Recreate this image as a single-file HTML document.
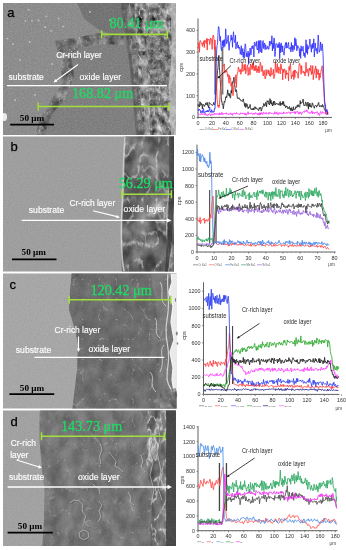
<!DOCTYPE html>
<html><head><meta charset="utf-8"><title>SEM line scans</title>
<style>
html,body{margin:0;padding:0;background:#fff;}
body{width:346px;height:550px;overflow:hidden;}
svg{display:block;filter:blur(0.35px);}
svg text{font-family:"Liberation Sans",Arial,sans-serif;}
.serif{font-family:"Liberation Serif","Times New Roman",serif !important;}
</style></head><body>
<svg width="346" height="550" viewBox="0 0 346 550">
<rect width="346" height="550" fill="#fff"/>
<defs>
<filter id="nz" color-interpolation-filters="sRGB" x="0" y="0" width="1" height="1">
  <feTurbulence type="fractalNoise" baseFrequency="0.7" numOctaves="2" seed="4" result="t"/>
  <feColorMatrix in="t" type="matrix" values="1.6 0 0 0 -0.3  1.6 0 0 0 -0.3  1.6 0 0 0 -0.3  0 0 0 0 0.08"/>
</filter>
<filter id="ta" color-interpolation-filters="sRGB" x="0" y="0" width="1" height="1">
  <feTurbulence type="fractalNoise" baseFrequency="0.16 0.12" numOctaves="3" seed="3" result="n"/>
  <feColorMatrix in="n" type="matrix" values="1.1 0 0 0 -0.072  1.1 0 0 0 -0.072  1.1 0 0 0 -0.072  0 0 0 0 1" result="shade"/>
  <feTurbulence type="turbulence" baseFrequency="0.1 0.07" numOctaves="3" seed="12" result="t"/>
  <feColorMatrix in="t" type="matrix" values="0 0 0 0 1  0 0 0 0 1  0 0 0 0 1  -2.700 0 0 0 0.600" result="veins0"/>
  <feGaussianBlur in="veins0" stdDeviation="0.4" result="veins"/>
  <feComposite in="veins" in2="shade" operator="over" result="tex"/>
  <feComposite in="tex" in2="SourceGraphic" operator="in"/>
</filter>
<filter id="tb" color-interpolation-filters="sRGB" x="0" y="0" width="1" height="1">
  <feTurbulence type="fractalNoise" baseFrequency="0.06 0.04" numOctaves="3" seed="5" result="n"/>
  <feColorMatrix in="n" type="matrix" values="0.7 0 0 0 0.066  0.7 0 0 0 0.066  0.7 0 0 0 0.066  0 0 0 0 1" result="shade"/>
  <feTurbulence type="turbulence" baseFrequency="0.07 0.045" numOctaves="3" seed="17" result="t"/>
  <feColorMatrix in="t" type="matrix" values="0 0 0 0 1  0 0 0 0 1  0 0 0 0 1  -2.475 0 0 0 0.550" result="veins0"/>
  <feGaussianBlur in="veins0" stdDeviation="0.45" result="veins"/>
  <feComposite in="veins" in2="shade" operator="over" result="tex"/>
  <feComposite in="tex" in2="SourceGraphic" operator="in"/>
</filter>
<filter id="tg" color-interpolation-filters="sRGB" x="0" y="0" width="1" height="1">
  <feTurbulence type="fractalNoise" baseFrequency="0.2 0.2" numOctaves="3" seed="31" result="n"/>
  <feColorMatrix in="n" type="matrix" values="0.7 0 0 0 0.113  0.7 0 0 0 0.113  0.7 0 0 0 0.113  0 0 0 0 1" result="shade"/>
  <feTurbulence type="turbulence" baseFrequency="0.15 0.15" numOctaves="3" seed="33" result="t"/>
  <feColorMatrix in="t" type="matrix" values="0 0 0 0 1  0 0 0 0 1  0 0 0 0 1  -2.100 0 0 0 0.350" result="veins0"/>
  <feGaussianBlur in="veins0" stdDeviation="0.3" result="veins"/>
  <feComposite in="veins" in2="shade" operator="over" result="tex"/>
  <feComposite in="tex" in2="SourceGraphic" operator="in"/>
</filter>
<filter id="tcr" color-interpolation-filters="sRGB" x="0" y="0" width="1" height="1">
  <feTurbulence type="fractalNoise" baseFrequency="0.12 0.1" numOctaves="3" seed="41" result="n"/>
  <feColorMatrix in="n" type="matrix" values="0.6 0 0 0 0.139  0.6 0 0 0 0.139  0.6 0 0 0 0.139  0 0 0 0 1" result="shade"/>
  <feTurbulence type="turbulence" baseFrequency="0.1 0.08" numOctaves="3" seed="43" result="t"/>
  <feColorMatrix in="t" type="matrix" values="0 0 0 0 1  0 0 0 0 1  0 0 0 0 1  -2.400 0 0 0 0.400" result="veins0"/>
  <feGaussianBlur in="veins0" stdDeviation="0.35" result="veins"/>
  <feComposite in="veins" in2="shade" operator="over" result="tex"/>
  <feComposite in="tex" in2="SourceGraphic" operator="in"/>
</filter>
<filter id="tc" color-interpolation-filters="sRGB" x="0" y="0" width="1" height="1">
  <feTurbulence type="fractalNoise" baseFrequency="0.08 0.06" numOctaves="3" seed="7" result="n"/>
  <feColorMatrix in="n" type="matrix" values="0.2 0 0 0 0.324  0.2 0 0 0 0.324  0.2 0 0 0 0.324  0 0 0 0 1" result="shade"/>
  <feTurbulence type="turbulence" baseFrequency="0.06 0.05" numOctaves="3" seed="23" result="t"/>
  <feColorMatrix in="t" type="matrix" values="0 0 0 0 1  0 0 0 0 1  0 0 0 0 1  -2.700 0 0 0 0.300" result="veins0"/>
  <feGaussianBlur in="veins0" stdDeviation="0.4" result="veins"/>
  <feComposite in="veins" in2="shade" operator="over" result="tex"/>
  <feComposite in="tex" in2="SourceGraphic" operator="in"/>
</filter>
<filter id="td" color-interpolation-filters="sRGB" x="0" y="0" width="1" height="1">
  <feTurbulence type="fractalNoise" baseFrequency="0.08 0.06" numOctaves="3" seed="9" result="n"/>
  <feColorMatrix in="n" type="matrix" values="0.25 0 0 0 0.334  0.25 0 0 0 0.334  0.25 0 0 0 0.334  0 0 0 0 1" result="shade"/>
  <feTurbulence type="turbulence" baseFrequency="0.06 0.045" numOctaves="3" seed="29" result="t"/>
  <feColorMatrix in="t" type="matrix" values="0 0 0 0 1  0 0 0 0 1  0 0 0 0 1  -2.500 0 0 0 0.250" result="veins0"/>
  <feGaussianBlur in="veins0" stdDeviation="0.4" result="veins"/>
  <feComposite in="veins" in2="shade" operator="over" result="tex"/>
  <feComposite in="tex" in2="SourceGraphic" operator="in"/>
</filter>
<filter id="td2" color-interpolation-filters="sRGB" x="0" y="0" width="1" height="1">
  <feTurbulence type="fractalNoise" baseFrequency="0.1 0.06" numOctaves="3" seed="13" result="n"/>
  <feColorMatrix in="n" type="matrix" values="0.5 0 0 0 0.213  0.5 0 0 0 0.213  0.5 0 0 0 0.213  0 0 0 0 1" result="shade"/>
  <feTurbulence type="turbulence" baseFrequency="0.09 0.05" numOctaves="3" seed="37" result="t"/>
  <feColorMatrix in="t" type="matrix" values="0 0 0 0 1  0 0 0 0 1  0 0 0 0 1  -3.375 0 0 0 0.750" result="veins0"/>
  <feGaussianBlur in="veins0" stdDeviation="0.4" result="veins"/>
  <feComposite in="veins" in2="shade" operator="over" result="tex"/>
  <feComposite in="tex" in2="SourceGraphic" operator="in"/>
</filter>
<linearGradient id="gc" x1="0" y1="0" x2="1" y2="0"><stop offset="0" stop-color="#c8c8c8"/><stop offset="0.5" stop-color="#e0e0e0"/><stop offset="1" stop-color="#f2f2f2"/></linearGradient>
<clipPath id="ca"><rect x="3" y="3" width="173" height="132"/></clipPath>
<clipPath id="cb"><rect x="3" y="136.5" width="171" height="135"/></clipPath>
<clipPath id="cc"><rect x="3" y="273.5" width="174" height="135"/></clipPath>
<clipPath id="cd"><rect x="3" y="410.5" width="173" height="135.5"/></clipPath>
</defs>
<g clip-path="url(#ca)">
<rect x="0" y="0" width="180" height="140" fill="rgb(142,142,142)"/>
<polygon points="55,42 100,33 124,37 132,36 136,70 141,135 36,135 40,120 50,102 62,84 61,60" fill="rgb(128,128,128)"/>
<polygon points="76,0 134,0 134,20 132,36 124,37 110,34 100,30.6 84,18.4" fill="rgb(116,116,116)"/>
<polygon points="130,0 176,0 176,135 141,135 136,70 133,40" fill="#000" filter="url(#ta)"/>
<polygon points="146,40 155,34 168,37 171,60 168,90 158,86 150,75 147,58" fill="#000" filter="url(#tg)"/>
<polygon points="120,0 134,0 136,40 138,70 144,135 137,135 131,70 127,40" fill="#000" filter="url(#tcr)"/>
<polygon points="120,0 126,0 129,40 133,70 139,135 136,135 130,70 126,40" fill="rgb(85,85,85)" opacity="0.6"/>
<polygon points="55,41 80,37 100,33 124,36 124,45 100,44 80,48 70,54 75,75 66,98 54,112 44,135 35,135 40,120 50,102 62,84 61,60" fill="#000" filter="url(#tcr)"/>
<polygon points="141,55 146,55 150,135 145,135" fill="rgb(180,180,180)" opacity="0.45"/>
<polygon points="170,0 176,0 176,135 171,135 169,90 172,50" fill="rgb(200,200,200)" opacity="0.7"/>
<ellipse cx="4.5" cy="117" rx="2.5" ry="4" fill="#f4f4f4"/>
<g fill="#dcdcdc" opacity="0.75"><circle cx="25.3" cy="20.8" r="0.9"/><circle cx="32" cy="20.8" r="0.9"/><circle cx="38.6" cy="20.4" r="0.9"/><circle cx="46.4" cy="16.4" r="0.9"/><circle cx="58.7" cy="18.6" r="0.9"/><circle cx="45.3" cy="27" r="0.9"/><circle cx="50.9" cy="30.8" r="0.9"/><circle cx="29.7" cy="42" r="0.9"/><circle cx="13" cy="44.2" r="0.9"/><circle cx="7.5" cy="38.6" r="0.9"/><circle cx="28.6" cy="9.7" r="0.9"/><circle cx="63" cy="26.4" r="0.9"/><circle cx="20" cy="60" r="0.9"/><circle cx="35" cy="95" r="0.9"/><circle cx="15" cy="100" r="0.9"/><circle cx="52" cy="64" r="0.9"/><circle cx="90" cy="12" r="0.9"/><circle cx="110" cy="20" r="0.9"/></g>
<rect x="0" y="0" width="180" height="140" filter="url(#nz)"/>
</g>
<text x="7.3" y="16.8" font-size="13" fill="#000" stroke="#000" stroke-width="0.25">a</text>
<line x1="101.6" y1="34.4" x2="167.4" y2="34.4" stroke="#a2e03c" stroke-width="1.6"/><line x1="101.6" y1="30.4" x2="101.6" y2="38.4" stroke="#a2e03c" stroke-width="1.5"/><line x1="167.4" y1="30.4" x2="167.4" y2="38.4" stroke="#a2e03c" stroke-width="1.5"/><text class="serif" x="109.5" y="27.8" font-size="14.2" fill="#1edc64" stroke="#1edc64" stroke-width="0.3">80.41 μm</text>
<text x="56.2" y="58.1" font-size="9.07" textLength="45.7" lengthAdjust="spacingAndGlyphs" fill="#fff" stroke="#fff" stroke-width="0.15">Cr-rich layer</text>
<line x1="78" y1="64.5" x2="55.1" y2="81.3" stroke="#fff" stroke-width="1.1"/><polygon points="53.5,82.5 55.4,79.0 57.4,81.8" fill="#fff"/>
<text x="8.5" y="79.8" font-size="9.29" textLength="35.4" lengthAdjust="spacingAndGlyphs" fill="#fff" stroke="#fff" stroke-width="0.15">substrate</text>
<text x="79.5" y="79.8" font-size="9.29" textLength="41.6" lengthAdjust="spacingAndGlyphs" fill="#fff" stroke="#fff" stroke-width="0.15">oxide layer</text>
<line x1="7" y1="85.6" x2="167" y2="85.6" stroke="#fff" stroke-width="1.3"/>
<line x1="38.2" y1="106.5" x2="169" y2="106.5" stroke="#a2e03c" stroke-width="1.6"/><line x1="38.2" y1="102.5" x2="38.2" y2="110.5" stroke="#a2e03c" stroke-width="1.5"/><line x1="169" y1="102.5" x2="169" y2="110.5" stroke="#a2e03c" stroke-width="1.5"/><text class="serif" x="72" y="97.5" font-size="14.2" fill="#1edc64" stroke="#1edc64" stroke-width="0.3">168.82 μm</text>
<line x1="10.2" y1="124.6" x2="54" y2="124.6" stroke="#000" stroke-width="1.8"/><text class="serif" x="19.8" y="120.5" font-size="9.2" font-weight="bold" fill="#000">50 μm</text>
<g clip-path="url(#cb)">
<rect x="0" y="130" width="180" height="145" fill="rgb(161,161,161)"/>
<polygon points="124,136 176,136 176,275 122,275 121,240 123,200" fill="#000" filter="url(#tb)"/>
<path d="M125,136 C123,160 124,175 122.5,200 S121,240 122,255 S124,268 124.5,275" stroke="#e6e6e6" stroke-width="1.6" fill="none" opacity="0.75"/>
<path d="M170,136 C169,160 171,180 168,200 S167,240 169,255 S168,268 167,275" stroke="#d0d0d0" stroke-width="1.2" fill="none" opacity="0.6"/>
<polygon points="169,136 174,136 174,200 172,240 168,272 165,272 167,240 169,200" fill="rgb(50,50,50)" opacity="0.7"/>
<rect x="0" y="130" width="180" height="145" filter="url(#nz)" opacity="0.6"/>
</g>
<text x="10.5" y="151.2" font-size="13" fill="#000" stroke="#000" stroke-width="0.25">b</text>
<line x1="122" y1="194.2" x2="171.4" y2="194.2" stroke="#a2e03c" stroke-width="1.6"/><line x1="122" y1="190.2" x2="122" y2="198.2" stroke="#a2e03c" stroke-width="1.5"/><line x1="171.4" y1="190.2" x2="171.4" y2="198.2" stroke="#a2e03c" stroke-width="1.5"/><text class="serif" x="118.7" y="187.5" font-size="14.2" fill="#1edc64" stroke="#1edc64" stroke-width="0.3">56.29 μm</text>
<text x="69.5" y="205.6" font-size="9.07" textLength="45.7" lengthAdjust="spacingAndGlyphs" fill="#fff" stroke="#fff" stroke-width="0.15">Cr-rich layer</text>
<line x1="93" y1="210.8" x2="118.1" y2="216.9" stroke="#fff" stroke-width="1.1"/><polygon points="120,217.4 116.1,218.2 116.9,214.9" fill="#fff"/>
<text x="28.8" y="212.6" font-size="9.29" textLength="35.4" lengthAdjust="spacingAndGlyphs" fill="#fff" stroke="#fff" stroke-width="0.15">substrate</text>
<text x="123.6" y="212.1" font-size="9.29" textLength="41.6" lengthAdjust="spacingAndGlyphs" fill="#fff" stroke="#fff" stroke-width="0.15">oxide layer</text>
<line x1="21.6" y1="220.4" x2="168.5" y2="220.4" stroke="#fff" stroke-width="1.3"/><polygon points="171.5,220.4 167.0,218.20000000000002 167.0,222.6" fill="#fff"/>
<line x1="12" y1="259.4" x2="56.5" y2="259.4" stroke="#000" stroke-width="1.8"/><text class="serif" x="21.6" y="255.0" font-size="9.2" font-weight="bold" fill="#000">50 μm</text>
<g clip-path="url(#cc)">
<rect x="0" y="270" width="180" height="145" fill="rgb(169,169,169)"/>
<polygon points="72,270 176,270 176,412 72,412 74,395 77,370 78,345 75,330 69,310 70,290" fill="#000" filter="url(#tc)"/>
<polygon points="150,270 172,270 172,392 155,412 158,380 160,340 155,300" fill="rgb(150,150,150)" opacity="0.3"/>
<polygon points="171,270 178,270 178,390 174,392 172,380 173,368 170,352 174,340 171,322 173,306 169,292 172,282" fill="#f0f0f0"/>
<path d="M171,273 L172,282 L169,292 L173,306 L171,322 L174,340 L170,352 L173,368 L172,380 L174,392" stroke="#fafafa" stroke-width="1.3" fill="none"/>
<g fill="none" stroke="#e8e8e8" stroke-width="1" opacity="0.7"><path d="M160,282 C165,290 158,300 166,306"/><path d="M155,318 C160,325 152,332 160,338"/><path d="M164,345 C158,352 166,360 160,372"/><path d="M150,372 C156,378 148,384 156,392"/></g>
<path d="M168,273 C166,290 171,300 167,320 S171,345 168,365 S170,385 172,392" stroke="rgb(240,240,240)" stroke-width="1.2" fill="none" opacity="0.8"/>
<polygon points="160,392 168,390 176,388 177,412 160,412" fill="#000" filter="url(#tcr)" opacity="0.7"/>
<rect x="0" y="270" width="180" height="145" filter="url(#nz)" opacity="0.6"/>
</g>
<g fill="#555" opacity="0.7"><ellipse cx="176.8" cy="333.5" rx="1" ry="2"/><ellipse cx="177.5" cy="343.5" rx="0.8" ry="1.2"/><ellipse cx="175.5" cy="300" rx="0.6" ry="2"/><ellipse cx="176" cy="395" rx="1.2" ry="3"/></g>
<text x="9.5" y="288.8" font-size="13" fill="#000" stroke="#000" stroke-width="0.25">c</text>
<line x1="69.2" y1="299.7" x2="170.7" y2="299.7" stroke="#a2e03c" stroke-width="1.6"/><line x1="69.2" y1="295.7" x2="69.2" y2="303.7" stroke="#a2e03c" stroke-width="1.5"/><line x1="170.7" y1="295.7" x2="170.7" y2="303.7" stroke="#a2e03c" stroke-width="1.5"/><text class="serif" x="90.5" y="295.3" font-size="14.2" fill="#1edc64" stroke="#1edc64" stroke-width="0.3">120.42 μm</text>
<text x="54.6" y="332.5" font-size="9.07" textLength="45.7" lengthAdjust="spacingAndGlyphs" fill="#fff" stroke="#fff" stroke-width="0.15">Cr-rich layer</text>
<line x1="78.5" y1="336.5" x2="78.5" y2="350.0" stroke="#fff" stroke-width="1.1"/><polygon points="78.5,352 76.8,348.4 80.2,348.4" fill="#fff"/>
<text x="15.8" y="352.5" font-size="9.29" textLength="35.4" lengthAdjust="spacingAndGlyphs" fill="#fff" stroke="#fff" stroke-width="0.15">substrate</text>
<text x="88.6" y="351.9" font-size="9.29" textLength="41.6" lengthAdjust="spacingAndGlyphs" fill="#fff" stroke="#fff" stroke-width="0.15">oxide layer</text>
<line x1="34.4" y1="357.3" x2="164.3" y2="357.3" stroke="#fff" stroke-width="1.3"/>
<line x1="9.4" y1="394.2" x2="54.2" y2="394.2" stroke="#000" stroke-width="1.8"/><text class="serif" x="19.8" y="390.5" font-size="9.2" font-weight="bold" fill="#000">50 μm</text>
<g clip-path="url(#cd)">
<rect x="0" y="405" width="180" height="145" fill="rgb(164,164,164)"/>
<polygon points="40,405 176,405 176,550 42,550 44,520 44.5,490 42,470 39.5,440 39.5,420" fill="#000" filter="url(#td)"/>
<polygon points="148,405 167,405 167,550 150,550 152,500 146,460" fill="#000" filter="url(#td2)"/>
<rect x="166" y="405" width="11" height="145" fill="rgb(60,60,60)" opacity="0.8"/>
<g fill="none" stroke="#3e3e3e" stroke-width="1.2" opacity="0.3" transform="translate(0.8,0.8)"><path d="M70,503 L74,500 L79,501 L83,505 L82,511 L86,516 L84,521 L89,527"/><path d="M99,501 L102,505 L99,511 L101,517 L98,522"/><path d="M79,533 L83,530 L88,532 L89,537 L84,540 L80,538 Z"/><path d="M100.5,444 L102,450 L99.5,456 L101,464"/><path d="M109,452 L113,457 L116,461 L115,466 L120,469 L123,472"/><path d="M93,484 L96,487 L99,489 L100,494"/><path d="M128,492 L131,497 L130,502 L134,505"/><path d="M141,455 L143,461 L141,467 L145,472"/><path d="M150,430 L152,440 L149,450 L153,462 L150,475 L154,490 L151,505"/><path d="M158,425 L160,438 L157,452 L161,470 L158,488 L162,500"/></g>
<g fill="none" stroke="#dedede" stroke-width="1" opacity="0.55"><path d="M70,503 L74,500 L79,501 L83,505 L82,511 L86,516 L84,521 L89,527"/><path d="M99,501 L102,505 L99,511 L101,517 L98,522"/><path d="M79,533 L83,530 L88,532 L89,537 L84,540 L80,538 Z"/><path d="M100.5,444 L102,450 L99.5,456 L101,464"/><path d="M109,452 L113,457 L116,461 L115,466 L120,469 L123,472"/><path d="M93,484 L96,487 L99,489 L100,494"/><path d="M128,492 L131,497 L130,502 L134,505"/><path d="M141,455 L143,461 L141,467 L145,472"/><path d="M150,430 L152,440 L149,450 L153,462 L150,475 L154,490 L151,505"/><path d="M158,425 L160,438 L157,452 L161,470 L158,488 L162,500"/></g>
<rect x="0" y="405" width="180" height="145" filter="url(#nz)" opacity="0.6"/>
</g>
<text x="10.5" y="425.5" font-size="13" fill="#000" stroke="#000" stroke-width="0.25">d</text>
<line x1="41.5" y1="436.3" x2="164.3" y2="436.3" stroke="#a2e03c" stroke-width="1.6"/><line x1="41.5" y1="432.3" x2="41.5" y2="440.3" stroke="#a2e03c" stroke-width="1.5"/><line x1="164.3" y1="432.3" x2="164.3" y2="440.3" stroke="#a2e03c" stroke-width="1.5"/><text class="serif" x="61" y="430.5" font-size="14.2" fill="#1edc64" stroke="#1edc64" stroke-width="0.3">143.73 μm</text>
<text x="10.7" y="445.8" font-size="9.07" textLength="25.2" lengthAdjust="spacingAndGlyphs" fill="#fff" stroke="#fff" stroke-width="0.15">Cr-rich</text>
<text x="10.2" y="457.5" font-size="9.07" textLength="18.2" lengthAdjust="spacingAndGlyphs" fill="#fff" stroke="#fff" stroke-width="0.15">layer</text>
<line x1="16.5" y1="460" x2="40.1" y2="467.2" stroke="#fff" stroke-width="1.1"/><polygon points="42,467.8 38.0,468.4 39.1,465.1" fill="#fff"/>
<text x="8.9" y="480.1" font-size="9.29" textLength="35.4" lengthAdjust="spacingAndGlyphs" fill="#fff" stroke="#fff" stroke-width="0.15">substrate</text>
<text x="78" y="479.8" font-size="9.29" textLength="41.6" lengthAdjust="spacingAndGlyphs" fill="#fff" stroke="#fff" stroke-width="0.15">oxide layer</text>
<line x1="7.6" y1="487" x2="169" y2="487" stroke="#fff" stroke-width="1.3"/><polygon points="172,487 167.5,484.8 167.5,489.2" fill="#fff"/>
<line x1="7.6" y1="532.7" x2="52.7" y2="532.7" stroke="#000" stroke-width="1.8"/><text class="serif" x="17.8" y="528.8" font-size="9.2" font-weight="bold" fill="#000">50 μm</text>
<line x1="198.0" y1="18.5" x2="198.0" y2="117.4" stroke="#505050" stroke-width="0.9"/>
<line x1="198.0" y1="117.4" x2="332.0" y2="117.4" stroke="#505050" stroke-width="0.9"/>
<line x1="196.4" y1="117.4" x2="198.0" y2="117.4" stroke="#555" stroke-width="0.6"/>
<text x="195.0" y="119.3" font-size="5.4" text-anchor="end" fill="#333">0</text>
<line x1="196.4" y1="95.7" x2="198.0" y2="95.7" stroke="#555" stroke-width="0.6"/>
<text x="195.0" y="97.6" font-size="5.4" text-anchor="end" fill="#333">100</text>
<line x1="196.4" y1="73.9" x2="198.0" y2="73.9" stroke="#555" stroke-width="0.6"/>
<text x="195.0" y="75.8" font-size="5.4" text-anchor="end" fill="#333">200</text>
<line x1="196.4" y1="52.2" x2="198.0" y2="52.2" stroke="#555" stroke-width="0.6"/>
<text x="195.0" y="54.1" font-size="5.4" text-anchor="end" fill="#333">300</text>
<line x1="196.4" y1="30.4" x2="198.0" y2="30.4" stroke="#555" stroke-width="0.6"/>
<text x="195.0" y="32.3" font-size="5.4" text-anchor="end" fill="#333">400</text>
<line x1="197.0" y1="117.4" x2="198.0" y2="117.4" stroke="#666" stroke-width="0.5"/>
<line x1="197.0" y1="113.1" x2="198.0" y2="113.1" stroke="#666" stroke-width="0.5"/>
<line x1="197.0" y1="108.7" x2="198.0" y2="108.7" stroke="#666" stroke-width="0.5"/>
<line x1="197.0" y1="104.4" x2="198.0" y2="104.4" stroke="#666" stroke-width="0.5"/>
<line x1="197.0" y1="100.0" x2="198.0" y2="100.0" stroke="#666" stroke-width="0.5"/>
<line x1="197.0" y1="95.7" x2="198.0" y2="95.7" stroke="#666" stroke-width="0.5"/>
<line x1="197.0" y1="91.3" x2="198.0" y2="91.3" stroke="#666" stroke-width="0.5"/>
<line x1="197.0" y1="87.0" x2="198.0" y2="87.0" stroke="#666" stroke-width="0.5"/>
<line x1="197.0" y1="82.6" x2="198.0" y2="82.6" stroke="#666" stroke-width="0.5"/>
<line x1="197.0" y1="78.2" x2="198.0" y2="78.2" stroke="#666" stroke-width="0.5"/>
<line x1="197.0" y1="73.9" x2="198.0" y2="73.9" stroke="#666" stroke-width="0.5"/>
<line x1="197.0" y1="69.6" x2="198.0" y2="69.6" stroke="#666" stroke-width="0.5"/>
<line x1="197.0" y1="65.2" x2="198.0" y2="65.2" stroke="#666" stroke-width="0.5"/>
<line x1="197.0" y1="60.9" x2="198.0" y2="60.9" stroke="#666" stroke-width="0.5"/>
<line x1="197.0" y1="56.5" x2="198.0" y2="56.5" stroke="#666" stroke-width="0.5"/>
<line x1="197.0" y1="52.2" x2="198.0" y2="52.2" stroke="#666" stroke-width="0.5"/>
<line x1="197.0" y1="47.8" x2="198.0" y2="47.8" stroke="#666" stroke-width="0.5"/>
<line x1="197.0" y1="43.5" x2="198.0" y2="43.5" stroke="#666" stroke-width="0.5"/>
<line x1="197.0" y1="39.1" x2="198.0" y2="39.1" stroke="#666" stroke-width="0.5"/>
<line x1="197.0" y1="34.8" x2="198.0" y2="34.8" stroke="#666" stroke-width="0.5"/>
<line x1="197.0" y1="30.4" x2="198.0" y2="30.4" stroke="#666" stroke-width="0.5"/>
<line x1="198.0" y1="117.4" x2="198.0" y2="119.0" stroke="#555" stroke-width="0.6"/>
<text x="198.0" y="124.9" font-size="5.4" text-anchor="middle" fill="#333">0</text>
<line x1="211.9" y1="117.4" x2="211.9" y2="119.0" stroke="#555" stroke-width="0.6"/>
<text x="211.9" y="124.9" font-size="5.4" text-anchor="middle" fill="#333">20</text>
<line x1="225.8" y1="117.4" x2="225.8" y2="119.0" stroke="#555" stroke-width="0.6"/>
<text x="225.8" y="124.9" font-size="5.4" text-anchor="middle" fill="#333">40</text>
<line x1="239.7" y1="117.4" x2="239.7" y2="119.0" stroke="#555" stroke-width="0.6"/>
<text x="239.7" y="124.9" font-size="5.4" text-anchor="middle" fill="#333">60</text>
<line x1="253.6" y1="117.4" x2="253.6" y2="119.0" stroke="#555" stroke-width="0.6"/>
<text x="253.6" y="124.9" font-size="5.4" text-anchor="middle" fill="#333">80</text>
<line x1="267.5" y1="117.4" x2="267.5" y2="119.0" stroke="#555" stroke-width="0.6"/>
<text x="267.5" y="124.9" font-size="5.4" text-anchor="middle" fill="#333">100</text>
<line x1="281.4" y1="117.4" x2="281.4" y2="119.0" stroke="#555" stroke-width="0.6"/>
<text x="281.4" y="124.9" font-size="5.4" text-anchor="middle" fill="#333">120</text>
<line x1="295.3" y1="117.4" x2="295.3" y2="119.0" stroke="#555" stroke-width="0.6"/>
<text x="295.3" y="124.9" font-size="5.4" text-anchor="middle" fill="#333">140</text>
<line x1="309.2" y1="117.4" x2="309.2" y2="119.0" stroke="#555" stroke-width="0.6"/>
<text x="309.2" y="124.9" font-size="5.4" text-anchor="middle" fill="#333">160</text>
<line x1="323.1" y1="117.4" x2="323.1" y2="119.0" stroke="#555" stroke-width="0.6"/>
<text x="323.1" y="124.9" font-size="5.4" text-anchor="middle" fill="#333">180</text>
<line x1="198.0" y1="117.4" x2="198.0" y2="118.4" stroke="#666" stroke-width="0.4"/>
<line x1="201.5" y1="117.4" x2="201.5" y2="118.4" stroke="#666" stroke-width="0.4"/>
<line x1="204.9" y1="117.4" x2="204.9" y2="118.4" stroke="#666" stroke-width="0.4"/>
<line x1="208.4" y1="117.4" x2="208.4" y2="118.4" stroke="#666" stroke-width="0.4"/>
<line x1="211.9" y1="117.4" x2="211.9" y2="118.4" stroke="#666" stroke-width="0.4"/>
<line x1="215.4" y1="117.4" x2="215.4" y2="118.4" stroke="#666" stroke-width="0.4"/>
<line x1="218.8" y1="117.4" x2="218.8" y2="118.4" stroke="#666" stroke-width="0.4"/>
<line x1="222.3" y1="117.4" x2="222.3" y2="118.4" stroke="#666" stroke-width="0.4"/>
<line x1="225.8" y1="117.4" x2="225.8" y2="118.4" stroke="#666" stroke-width="0.4"/>
<line x1="229.3" y1="117.4" x2="229.3" y2="118.4" stroke="#666" stroke-width="0.4"/>
<line x1="232.8" y1="117.4" x2="232.8" y2="118.4" stroke="#666" stroke-width="0.4"/>
<line x1="236.2" y1="117.4" x2="236.2" y2="118.4" stroke="#666" stroke-width="0.4"/>
<line x1="239.7" y1="117.4" x2="239.7" y2="118.4" stroke="#666" stroke-width="0.4"/>
<line x1="243.2" y1="117.4" x2="243.2" y2="118.4" stroke="#666" stroke-width="0.4"/>
<line x1="246.7" y1="117.4" x2="246.7" y2="118.4" stroke="#666" stroke-width="0.4"/>
<line x1="250.1" y1="117.4" x2="250.1" y2="118.4" stroke="#666" stroke-width="0.4"/>
<line x1="253.6" y1="117.4" x2="253.6" y2="118.4" stroke="#666" stroke-width="0.4"/>
<line x1="257.1" y1="117.4" x2="257.1" y2="118.4" stroke="#666" stroke-width="0.4"/>
<line x1="260.6" y1="117.4" x2="260.6" y2="118.4" stroke="#666" stroke-width="0.4"/>
<line x1="264.0" y1="117.4" x2="264.0" y2="118.4" stroke="#666" stroke-width="0.4"/>
<line x1="267.5" y1="117.4" x2="267.5" y2="118.4" stroke="#666" stroke-width="0.4"/>
<line x1="271.0" y1="117.4" x2="271.0" y2="118.4" stroke="#666" stroke-width="0.4"/>
<line x1="274.4" y1="117.4" x2="274.4" y2="118.4" stroke="#666" stroke-width="0.4"/>
<line x1="277.9" y1="117.4" x2="277.9" y2="118.4" stroke="#666" stroke-width="0.4"/>
<line x1="281.4" y1="117.4" x2="281.4" y2="118.4" stroke="#666" stroke-width="0.4"/>
<line x1="284.9" y1="117.4" x2="284.9" y2="118.4" stroke="#666" stroke-width="0.4"/>
<line x1="288.4" y1="117.4" x2="288.4" y2="118.4" stroke="#666" stroke-width="0.4"/>
<line x1="291.8" y1="117.4" x2="291.8" y2="118.4" stroke="#666" stroke-width="0.4"/>
<line x1="295.3" y1="117.4" x2="295.3" y2="118.4" stroke="#666" stroke-width="0.4"/>
<line x1="298.8" y1="117.4" x2="298.8" y2="118.4" stroke="#666" stroke-width="0.4"/>
<line x1="302.2" y1="117.4" x2="302.2" y2="118.4" stroke="#666" stroke-width="0.4"/>
<line x1="305.7" y1="117.4" x2="305.7" y2="118.4" stroke="#666" stroke-width="0.4"/>
<line x1="309.2" y1="117.4" x2="309.2" y2="118.4" stroke="#666" stroke-width="0.4"/>
<line x1="312.7" y1="117.4" x2="312.7" y2="118.4" stroke="#666" stroke-width="0.4"/>
<line x1="316.1" y1="117.4" x2="316.1" y2="118.4" stroke="#666" stroke-width="0.4"/>
<line x1="319.6" y1="117.4" x2="319.6" y2="118.4" stroke="#666" stroke-width="0.4"/>
<line x1="323.1" y1="117.4" x2="323.1" y2="118.4" stroke="#666" stroke-width="0.4"/>
<line x1="326.6" y1="117.4" x2="326.6" y2="118.4" stroke="#666" stroke-width="0.4"/>
<line x1="330.0" y1="117.4" x2="330.0" y2="118.4" stroke="#666" stroke-width="0.4"/>
<text transform="translate(183.4,67.3) rotate(-90)" font-size="5.6" fill="#333" text-anchor="middle">cps</text>
<text x="328.5" y="131.5" font-size="4.6" fill="#444" text-anchor="middle" >μm</text>
<rect x="214.3" y="47" width="1.8" height="47.5" fill="#777"/>
<rect x="221.6" y="47" width="1.8" height="47.5" fill="#777"/>
<polyline points="198.0,114.1 198.5,113.9 199.0,114.3 199.5,114.8 199.9,114.5 200.4,114.9 200.9,114.1 201.4,113.1 201.9,114.5 202.4,114.6 202.9,113.7 203.4,113.8 203.8,114.0 204.3,114.8 204.8,114.1 205.3,113.5 205.8,115.1 206.3,114.4 206.8,115.5 207.2,115.0 207.7,115.5 208.2,114.2 208.7,115.0 209.2,113.8 209.7,113.9 210.2,114.2 210.6,116.0 211.1,114.4 211.6,114.0 212.1,113.9 212.6,115.2 213.1,114.4 213.6,114.7 214.1,114.6 214.5,113.1 215.0,114.6 215.5,114.0 216.0,113.3 216.5,114.4 217.0,114.0 217.5,113.8 217.9,113.9 218.4,114.9 218.9,113.9 219.4,112.8 219.9,115.1 220.4,113.2 220.9,113.8 221.4,114.4 221.8,112.3 222.3,113.3 222.8,114.8 223.3,113.8 223.8,113.4 224.3,114.0 224.8,113.3 225.2,113.9 225.7,113.3 226.2,112.7 226.7,114.4 227.2,113.7 227.7,114.2 228.2,113.7 228.6,114.8 229.1,114.3 229.6,114.0 230.1,113.1 230.6,112.9 231.1,114.8 231.6,114.4 232.1,113.3 232.5,115.4 233.0,114.1 233.5,113.8 234.0,112.8 234.5,113.2 235.0,114.0 235.5,114.0 235.9,113.9 236.4,112.5 236.9,114.1 237.4,114.0 237.9,113.4 238.4,113.8 238.9,113.9 239.4,114.6 239.8,113.7 240.3,114.1 240.8,112.7 241.3,113.1 241.8,113.7 242.3,113.1 242.8,113.9 243.2,112.8 243.7,113.6 244.2,113.2 244.7,114.7 245.2,113.3 245.7,115.0 246.2,115.3 246.7,113.8 247.1,114.3 247.6,113.4 248.1,111.7 248.6,114.2 249.1,114.1 249.6,113.4 250.1,113.1 250.5,113.7 251.0,113.7 251.5,112.9 252.0,113.1 252.5,114.4 253.0,113.6 253.5,113.5 253.9,114.4 254.4,113.3 254.9,114.2 255.4,112.6 255.9,113.3 256.4,113.4 256.9,113.9 257.4,113.5 257.8,115.1 258.3,114.4 258.8,113.1 259.3,115.2 259.8,112.7 260.3,114.8 260.8,112.7 261.2,114.1 261.7,112.7 262.2,113.2 262.7,114.6 263.2,112.3 263.7,112.1 264.2,113.4 264.7,113.5 265.1,113.4 265.6,114.1 266.1,112.4 266.6,113.7 267.1,113.3 267.6,113.9 268.1,113.8 268.5,114.3 269.0,112.2 269.5,113.4 270.0,112.4 270.5,113.2 271.0,113.8 271.5,113.5 271.9,113.7 272.4,113.2 272.9,113.5 273.4,113.4 273.9,114.4 274.4,113.9 274.9,111.7 275.4,113.7 275.8,114.1 276.3,112.8 276.8,111.9 277.3,114.4 277.8,113.3 278.3,113.6 278.8,114.6 279.2,112.4 279.7,113.1 280.2,113.0 280.7,113.7 281.2,112.7 281.7,113.5 282.2,113.2 282.7,114.0 283.1,114.1 283.6,111.8 284.1,113.4 284.6,112.7 285.1,113.0 285.6,113.4 286.1,113.4 286.5,112.4 287.0,113.2 287.5,113.1 288.0,112.9 288.5,111.9 289.0,112.3 289.5,112.5 289.9,113.4 290.4,114.1 290.9,112.0 291.4,112.0 291.9,113.0 292.4,112.3 292.9,112.1 293.4,112.1 293.8,112.0 294.3,113.2 294.8,111.4 295.3,113.9 295.8,112.0 296.3,112.3 296.8,111.9 297.2,111.0 297.7,111.4 298.2,113.7 298.7,114.2 299.2,111.9 299.7,113.6 300.2,112.7 300.7,111.9 301.1,114.1 301.6,114.6 302.1,112.4 302.6,112.3 303.1,112.2 303.6,111.5 304.1,112.0 304.5,112.4 305.0,110.5 305.5,111.1 306.0,111.9 306.5,109.8 307.0,110.9 307.5,110.8 307.9,112.6 308.4,112.6 308.9,113.3 309.4,113.4 309.9,112.4 310.4,113.3 310.9,112.3 311.4,112.3 311.8,110.8 312.3,113.9 312.8,111.8 313.3,112.7 313.8,112.6 314.3,113.9 314.8,113.0 315.2,111.9 315.7,112.7 316.2,112.5 316.7,112.9 317.2,111.6 317.7,112.6 318.2,114.6 318.7,113.3 319.1,114.4 319.6,115.6 320.1,113.1 320.6,111.4 321.1,112.6 321.6,113.7 322.1,113.5 322.5,111.6 323.0,112.5 323.5,112.7 324.0,113.0 324.5,113.2 325.0,112.7 325.5,113.2 325.9,113.7 326.4,114.9 326.9,113.9 327.4,115.0 327.9,114.0" fill="none" stroke="#ff33ff" stroke-width="0.85" stroke-opacity="1.0" stroke-linejoin="round"/>
<polyline points="198.0,106.7 198.5,104.8 199.0,104.6 199.5,106.8 199.9,101.7 200.4,102.2 200.9,105.4 201.4,103.4 201.9,104.0 202.4,109.0 202.9,104.3 203.4,104.8 203.8,104.6 204.3,106.5 204.8,105.2 205.3,105.1 205.8,102.8 206.3,104.2 206.8,104.8 207.2,102.3 207.7,105.7 208.2,105.5 208.7,107.8 209.2,102.3 209.7,103.3 210.2,103.4 210.6,103.8 211.1,104.7 211.6,104.6 212.1,105.4 212.6,105.3 213.1,104.9 213.6,102.5 214.1,104.1 214.5,105.1 215.0,103.7 215.5,100.6 216.0,92.7 216.5,86.5 217.0,78.5 217.5,70.7 217.9,69.0 218.4,61.3 218.9,55.3 219.4,67.5 219.9,74.6 220.4,82.9 220.9,90.4 221.4,101.4 221.8,101.0 222.3,104.5 222.8,103.9 223.3,108.8 223.8,105.2 224.3,101.3 224.8,102.3 225.2,100.7 225.7,96.9 226.2,96.4 226.7,97.8 227.2,94.0 227.7,89.8 228.2,94.2 228.6,93.6 229.1,96.1 229.6,93.6 230.1,97.7 230.6,98.0 231.1,90.5 231.6,93.1 232.1,85.6 232.5,81.8 233.0,82.6 233.5,79.7 234.0,77.2 234.5,84.4 235.0,87.1 235.5,91.5 235.9,90.5 236.4,89.7 236.9,93.6 237.4,98.3 237.9,98.7 238.4,98.6 238.9,97.6 239.4,99.3 239.8,99.0 240.3,99.3 240.8,100.8 241.3,100.7 241.8,100.7 242.3,101.6 242.8,100.9 243.2,98.9 243.7,101.6 244.2,103.0 244.7,106.4 245.2,103.2 245.7,107.5 246.2,107.0 246.7,103.6 247.1,104.2 247.6,106.0 248.1,108.8 248.6,107.1 249.1,107.9 249.6,106.3 250.1,104.4 250.5,107.7 251.0,109.4 251.5,109.9 252.0,108.4 252.5,108.6 253.0,110.0 253.5,108.2 253.9,110.0 254.4,106.9 254.9,106.9 255.4,106.9 255.9,109.1 256.4,107.8 256.9,108.7 257.4,109.1 257.8,109.0 258.3,110.4 258.8,110.6 259.3,107.5 259.8,108.9 260.3,108.3 260.8,107.3 261.2,111.1 261.7,109.8 262.2,107.9 262.7,106.5 263.2,106.7 263.7,103.4 264.2,103.9 264.7,106.2 265.1,105.5 265.6,102.4 266.1,102.8 266.6,106.7 267.1,100.8 267.6,102.0 268.1,100.7 268.5,103.7 269.0,103.6 269.5,105.0 270.0,98.6 270.5,103.4 271.0,100.2 271.5,104.2 271.9,102.8 272.4,106.0 272.9,103.7 273.4,101.3 273.9,105.3 274.4,101.2 274.9,102.4 275.4,104.9 275.8,103.9 276.3,103.9 276.8,103.1 277.3,104.0 277.8,104.5 278.3,103.6 278.8,104.9 279.2,105.3 279.7,103.1 280.2,101.5 280.7,105.7 281.2,103.0 281.7,104.2 282.2,104.8 282.7,101.5 283.1,104.4 283.6,101.5 284.1,106.0 284.6,104.7 285.1,106.3 285.6,107.7 286.1,105.8 286.5,107.1 287.0,106.1 287.5,107.3 288.0,109.0 288.5,107.7 289.0,107.6 289.5,106.5 289.9,109.3 290.4,108.3 290.9,110.8 291.4,107.7 291.9,110.2 292.4,111.0 292.9,108.5 293.4,106.7 293.8,110.2 294.3,109.5 294.8,108.8 295.3,109.3 295.8,106.7 296.3,108.1 296.8,107.6 297.2,105.2 297.7,106.9 298.2,104.6 298.7,106.5 299.2,106.6 299.7,107.3 300.2,100.6 300.7,104.0 301.1,102.6 301.6,102.7 302.1,102.0 302.6,102.2 303.1,99.1 303.6,104.5 304.1,105.6 304.5,104.8 305.0,105.6 305.5,102.1 306.0,102.2 306.5,105.4 307.0,106.3 307.5,104.7 307.9,102.0 308.4,109.2 308.9,103.8 309.4,106.6 309.9,103.1 310.4,106.7 310.9,105.4 311.4,107.5 311.8,106.6 312.3,102.8 312.8,103.8 313.3,105.8 313.8,106.6 314.3,108.3 314.8,105.9 315.2,105.4 315.7,105.5 316.2,105.6 316.7,107.2 317.2,105.5 317.7,105.5 318.2,103.4 318.7,102.4 319.1,105.7 319.6,106.7 320.1,105.5 320.6,106.4 321.1,106.6 321.6,105.5 322.1,107.1 322.5,104.5 323.0,105.6 323.5,106.0 324.0,107.8 324.5,109.7 325.0,110.7 325.5,110.5 325.9,111.6 326.4,111.5 326.9,112.2 327.4,114.0 327.9,112.9" fill="none" stroke="#222" stroke-width="0.85" stroke-opacity="1.0" stroke-linejoin="round"/>
<polyline points="198.0,48.4 198.5,44.5 199.0,42.8 199.5,52.3 199.9,40.8 200.4,40.5 200.9,42.1 201.4,43.5 201.9,43.3 202.4,46.4 202.9,42.7 203.4,44.2 203.8,40.8 204.3,47.6 204.8,40.0 205.3,40.5 205.8,42.0 206.3,43.6 206.8,38.4 207.2,50.1 207.7,38.8 208.2,40.0 208.7,39.8 209.2,39.2 209.7,44.7 210.2,42.6 210.6,37.9 211.1,39.0 211.6,40.2 212.1,49.3 212.6,38.4 213.1,35.1 213.6,35.9 214.1,40.0 214.5,49.5 215.0,40.0 215.5,50.7 216.0,74.0 216.5,79.5 217.0,98.1 217.5,102.8 217.9,106.5 218.4,105.0 218.9,107.7 219.4,106.1 219.9,96.8 220.4,88.7 220.9,86.2 221.4,81.1 221.8,79.9 222.3,72.5 222.8,66.5 223.3,65.4 223.8,65.9 224.3,63.9 224.8,73.2 225.2,72.0 225.7,70.7 226.2,71.9 226.7,70.4 227.2,73.4 227.7,76.6 228.2,74.3 228.6,80.1 229.1,83.3 229.6,75.5 230.1,78.7 230.6,78.1 231.1,86.3 231.6,82.7 232.1,85.8 232.5,88.9 233.0,95.6 233.5,90.9 234.0,84.0 234.5,82.9 235.0,83.6 235.5,78.7 235.9,74.7 236.4,87.5 236.9,76.6 237.4,73.2 237.9,71.8 238.4,67.0 238.9,69.0 239.4,71.9 239.8,71.7 240.3,69.4 240.8,74.4 241.3,72.1 241.8,67.9 242.3,63.2 242.8,71.6 243.2,70.8 243.7,69.6 244.2,64.7 244.7,70.3 245.2,63.9 245.7,73.9 246.2,70.5 246.7,70.4 247.1,66.1 247.6,64.8 248.1,75.5 248.6,72.8 249.1,67.4 249.6,71.4 250.1,74.9 250.5,63.9 251.0,66.0 251.5,65.8 252.0,69.7 252.5,63.1 253.0,68.3 253.5,62.4 253.9,70.8 254.4,70.5 254.9,66.3 255.4,70.6 255.9,65.1 256.4,67.3 256.9,72.7 257.4,68.9 257.8,71.0 258.3,66.1 258.8,73.0 259.3,72.5 259.8,66.1 260.3,62.3 260.8,63.6 261.2,71.5 261.7,70.9 262.2,65.6 262.7,72.4 263.2,76.0 263.7,71.5 264.2,70.2 264.7,75.5 265.1,78.9 265.6,78.1 266.1,69.5 266.6,75.4 267.1,72.9 267.6,71.5 268.1,69.8 268.5,73.7 269.0,70.3 269.5,75.9 270.0,73.7 270.5,76.4 271.0,67.6 271.5,72.3 271.9,75.2 272.4,73.6 272.9,73.0 273.4,69.2 273.9,78.6 274.4,76.3 274.9,73.6 275.4,61.7 275.8,68.1 276.3,72.4 276.8,69.0 277.3,63.5 277.8,72.9 278.3,73.4 278.8,66.9 279.2,69.8 279.7,69.1 280.2,73.9 280.7,63.9 281.2,64.7 281.7,69.4 282.2,68.9 282.7,80.0 283.1,69.1 283.6,72.5 284.1,69.9 284.6,68.8 285.1,73.0 285.6,78.5 286.1,70.1 286.5,74.6 287.0,72.9 287.5,74.0 288.0,72.9 288.5,81.0 289.0,66.5 289.5,70.4 289.9,66.9 290.4,63.3 290.9,71.3 291.4,78.8 291.9,75.1 292.4,76.3 292.9,73.4 293.4,71.0 293.8,79.6 294.3,69.9 294.8,77.5 295.3,70.1 295.8,71.8 296.3,72.6 296.8,71.6 297.2,73.6 297.7,73.9 298.2,78.3 298.7,71.5 299.2,63.8 299.7,63.3 300.2,66.0 300.7,68.6 301.1,74.3 301.6,65.6 302.1,71.7 302.6,71.8 303.1,72.7 303.6,71.2 304.1,73.4 304.5,71.9 305.0,76.0 305.5,73.1 306.0,62.3 306.5,71.9 307.0,72.6 307.5,69.5 307.9,68.8 308.4,76.3 308.9,72.6 309.4,68.0 309.9,70.6 310.4,71.2 310.9,65.4 311.4,74.5 311.8,71.4 312.3,73.9 312.8,65.6 313.3,79.7 313.8,74.5 314.3,73.9 314.8,69.0 315.2,69.2 315.7,66.0 316.2,78.2 316.7,68.6 317.2,72.9 317.7,74.5 318.2,69.5 318.7,75.5 319.1,80.2 319.6,73.2 320.1,77.9 320.6,74.4 321.1,70.2 321.6,70.4 322.1,65.8 322.5,73.8 323.0,79.9 323.5,84.5 324.0,93.7 324.5,103.1 325.0,102.8 325.5,108.8 325.9,114.0 326.4,110.4 326.9,112.1 327.4,112.0 327.9,112.8" fill="none" stroke="#ff3030" stroke-width="0.85" stroke-opacity="1.0" stroke-linejoin="round"/>
<polyline points="198.0,109.9 198.5,110.8 199.0,109.0 199.5,110.2 199.9,110.3 200.4,110.3 200.9,113.0 201.4,111.1 201.9,111.3 202.4,110.6 202.9,112.9 203.4,108.4 203.8,110.7 204.3,112.7 204.8,113.4 205.3,111.3 205.8,111.0 206.3,111.9 206.8,110.7 207.2,111.8 207.7,110.1 208.2,112.0 208.7,110.9 209.2,109.4 209.7,107.0 210.2,112.4 210.6,111.6 211.1,112.1 211.6,109.7 212.1,112.6 212.6,111.6 213.1,110.9 213.6,112.3 214.1,111.9 214.5,108.3 215.0,108.8 215.5,89.9 216.0,67.5 216.5,53.9 217.0,45.6 217.5,44.2 217.9,35.3 218.4,26.6 218.9,26.8 219.4,33.5 219.9,41.0 220.4,36.4 220.9,45.9 221.4,50.6 221.8,50.2 222.3,40.8 222.8,45.8 223.3,40.3 223.8,47.4 224.3,39.5 224.8,46.3 225.2,43.1 225.7,28.8 226.2,37.4 226.7,43.9 227.2,41.8 227.7,39.7 228.2,35.3 228.6,43.9 229.1,50.3 229.6,42.9 230.1,41.5 230.6,41.0 231.1,34.9 231.6,40.0 232.1,37.5 232.5,47.3 233.0,37.5 233.5,31.7 234.0,38.8 234.5,41.8 235.0,42.7 235.5,35.0 235.9,48.9 236.4,45.2 236.9,42.8 237.4,41.8 237.9,48.1 238.4,45.0 238.9,48.5 239.4,47.1 239.8,48.9 240.3,54.3 240.8,49.5 241.3,45.7 241.8,55.1 242.3,52.2 242.8,48.5 243.2,57.3 243.7,51.9 244.2,58.3 244.7,48.7 245.2,43.8 245.7,45.8 246.2,56.7 246.7,52.9 247.1,56.2 247.6,56.9 248.1,51.0 248.6,64.4 249.1,52.8 249.6,56.3 250.1,48.0 250.5,52.1 251.0,54.9 251.5,49.4 252.0,46.2 252.5,48.6 253.0,45.4 253.5,49.3 253.9,57.0 254.4,42.1 254.9,43.1 255.4,45.8 255.9,46.2 256.4,41.4 256.9,48.7 257.4,50.0 257.8,47.4 258.3,40.7 258.8,53.3 259.3,40.6 259.8,49.6 260.3,51.9 260.8,40.3 261.2,47.0 261.7,52.9 262.2,48.3 262.7,41.9 263.2,40.6 263.7,48.6 264.2,44.5 264.7,43.0 265.1,49.7 265.6,44.8 266.1,46.7 266.6,49.1 267.1,48.9 267.6,46.2 268.1,46.4 268.5,49.4 269.0,48.7 269.5,41.2 270.0,45.6 270.5,42.4 271.0,40.9 271.5,43.9 271.9,35.7 272.4,50.9 272.9,43.0 273.4,48.5 273.9,37.9 274.4,38.7 274.9,56.6 275.4,51.8 275.8,43.9 276.3,43.3 276.8,43.6 277.3,47.6 277.8,45.1 278.3,44.2 278.8,47.8 279.2,42.4 279.7,58.5 280.2,44.4 280.7,52.6 281.2,42.9 281.7,48.7 282.2,51.9 282.7,45.8 283.1,52.0 283.6,52.0 284.1,55.2 284.6,47.7 285.1,45.2 285.6,42.6 286.1,48.3 286.5,42.5 287.0,47.5 287.5,48.0 288.0,44.8 288.5,42.4 289.0,49.2 289.5,48.8 289.9,48.4 290.4,47.2 290.9,52.0 291.4,42.6 291.9,49.5 292.4,45.3 292.9,51.6 293.4,45.8 293.8,45.7 294.3,49.6 294.8,37.7 295.3,45.8 295.8,38.9 296.3,42.9 296.8,50.8 297.2,49.4 297.7,45.5 298.2,47.3 298.7,47.3 299.2,49.0 299.7,56.4 300.2,48.7 300.7,58.4 301.1,45.8 301.6,51.1 302.1,51.1 302.6,48.7 303.1,46.3 303.6,54.6 304.1,56.1 304.5,52.8 305.0,57.5 305.5,52.3 306.0,39.8 306.5,52.7 307.0,44.4 307.5,54.3 307.9,46.1 308.4,49.1 308.9,47.9 309.4,44.8 309.9,39.0 310.4,46.6 310.9,46.9 311.4,52.2 311.8,44.6 312.3,48.6 312.8,43.3 313.3,47.5 313.8,38.8 314.3,56.9 314.8,48.6 315.2,42.9 315.7,48.8 316.2,51.0 316.7,48.4 317.2,53.8 317.7,46.4 318.2,35.0 318.7,41.3 319.1,52.3 319.6,51.1 320.1,48.8 320.6,41.9 321.1,50.8 321.6,50.1 322.1,43.8 322.5,45.8 323.0,53.6 323.5,69.9 324.0,85.9 324.5,97.6 325.0,106.2 325.5,104.9 325.9,111.9 326.4,110.8 326.9,109.4 327.4,111.0 327.9,114.4" fill="none" stroke="#3030ff" stroke-width="0.85" stroke-opacity="1.0" stroke-linejoin="round"/>
<text x="199.5" y="61.2" font-size="6.3" fill="#2a2a2a" text-anchor="start" textLength="23.3" lengthAdjust="spacingAndGlyphs" >substrate</text>
<text x="229.5" y="63.3" font-size="6.3" fill="#2a2a2a" text-anchor="start" textLength="30.6" lengthAdjust="spacingAndGlyphs" >Cr-rich layer</text>
<text x="273" y="63.3" font-size="6.3" fill="#2a2a2a" text-anchor="start" textLength="27.0" lengthAdjust="spacingAndGlyphs" >oxide layer</text>
<line x1="231" y1="65.5" x2="218.6" y2="77.5" stroke="#111" stroke-width="0.8"/><polygon points="217.5,78.5 218.5,75.7 220.4,77.6" fill="#111"/>
<line x1="199.5" y1="129.5" x2="204.5" y2="129.5" stroke="#999" stroke-width="0.7"/>
<text x="205.0" y="130.4" font-size="2.6" fill="#555">Cr Ka1</text>
<line x1="212.8" y1="129.5" x2="217.8" y2="129.5" stroke="#ff6666" stroke-width="0.7"/>
<text x="218.3" y="130.4" font-size="2.6" fill="#555">Fe Ka1</text>
<line x1="226.1" y1="129.5" x2="231.1" y2="129.5" stroke="#6666ff" stroke-width="0.7"/>
<text x="231.6" y="130.4" font-size="2.6" fill="#555">O Ka1</text>
<line x1="239.4" y1="129.5" x2="244.4" y2="129.5" stroke="#ff66ff" stroke-width="0.7"/>
<text x="244.9" y="130.4" font-size="2.6" fill="#555">Ni Ka1</text>
<line x1="197.0" y1="144.6" x2="197.0" y2="252.0" stroke="#505050" stroke-width="0.9"/>
<line x1="197.0" y1="252.0" x2="335.5" y2="252.0" stroke="#505050" stroke-width="0.9"/>
<line x1="195.4" y1="252.0" x2="197.0" y2="252.0" stroke="#555" stroke-width="0.6"/>
<text x="194.0" y="253.9" font-size="5.4" text-anchor="end" fill="#333">0</text>
<line x1="195.4" y1="235.4" x2="197.0" y2="235.4" stroke="#555" stroke-width="0.6"/>
<text x="194.0" y="237.3" font-size="5.4" text-anchor="end" fill="#333">200</text>
<line x1="195.4" y1="218.8" x2="197.0" y2="218.8" stroke="#555" stroke-width="0.6"/>
<text x="194.0" y="220.7" font-size="5.4" text-anchor="end" fill="#333">400</text>
<line x1="195.4" y1="202.2" x2="197.0" y2="202.2" stroke="#555" stroke-width="0.6"/>
<text x="194.0" y="204.1" font-size="5.4" text-anchor="end" fill="#333">600</text>
<line x1="195.4" y1="185.6" x2="197.0" y2="185.6" stroke="#555" stroke-width="0.6"/>
<text x="194.0" y="187.5" font-size="5.4" text-anchor="end" fill="#333">800</text>
<line x1="195.4" y1="169.0" x2="197.0" y2="169.0" stroke="#555" stroke-width="0.6"/>
<text x="194.0" y="170.9" font-size="5.4" text-anchor="end" fill="#333">1000</text>
<line x1="195.4" y1="152.4" x2="197.0" y2="152.4" stroke="#555" stroke-width="0.6"/>
<text x="194.0" y="154.3" font-size="5.4" text-anchor="end" fill="#333">1200</text>
<line x1="197.0" y1="252.0" x2="197.0" y2="253.6" stroke="#555" stroke-width="0.6"/>
<text x="197.0" y="259.5" font-size="5.4" text-anchor="middle" fill="#333">0</text>
<line x1="214.2" y1="252.0" x2="214.2" y2="253.6" stroke="#555" stroke-width="0.6"/>
<text x="214.2" y="259.5" font-size="5.4" text-anchor="middle" fill="#333">10</text>
<line x1="231.4" y1="252.0" x2="231.4" y2="253.6" stroke="#555" stroke-width="0.6"/>
<text x="231.4" y="259.5" font-size="5.4" text-anchor="middle" fill="#333">20</text>
<line x1="248.6" y1="252.0" x2="248.6" y2="253.6" stroke="#555" stroke-width="0.6"/>
<text x="248.6" y="259.5" font-size="5.4" text-anchor="middle" fill="#333">30</text>
<line x1="265.8" y1="252.0" x2="265.8" y2="253.6" stroke="#555" stroke-width="0.6"/>
<text x="265.8" y="259.5" font-size="5.4" text-anchor="middle" fill="#333">40</text>
<line x1="283.0" y1="252.0" x2="283.0" y2="253.6" stroke="#555" stroke-width="0.6"/>
<text x="283.0" y="259.5" font-size="5.4" text-anchor="middle" fill="#333">50</text>
<line x1="300.2" y1="252.0" x2="300.2" y2="253.6" stroke="#555" stroke-width="0.6"/>
<text x="300.2" y="259.5" font-size="5.4" text-anchor="middle" fill="#333">60</text>
<line x1="317.4" y1="252.0" x2="317.4" y2="253.6" stroke="#555" stroke-width="0.6"/>
<text x="317.4" y="259.5" font-size="5.4" text-anchor="middle" fill="#333">70</text>
<line x1="334.6" y1="252.0" x2="334.6" y2="253.6" stroke="#555" stroke-width="0.6"/>
<text x="334.6" y="259.5" font-size="5.4" text-anchor="middle" fill="#333">80</text>
<line x1="197.0" y1="252.0" x2="197.0" y2="253.0" stroke="#666" stroke-width="0.4"/>
<line x1="201.3" y1="252.0" x2="201.3" y2="253.0" stroke="#666" stroke-width="0.4"/>
<line x1="205.6" y1="252.0" x2="205.6" y2="253.0" stroke="#666" stroke-width="0.4"/>
<line x1="209.9" y1="252.0" x2="209.9" y2="253.0" stroke="#666" stroke-width="0.4"/>
<line x1="214.2" y1="252.0" x2="214.2" y2="253.0" stroke="#666" stroke-width="0.4"/>
<line x1="218.5" y1="252.0" x2="218.5" y2="253.0" stroke="#666" stroke-width="0.4"/>
<line x1="222.8" y1="252.0" x2="222.8" y2="253.0" stroke="#666" stroke-width="0.4"/>
<line x1="227.1" y1="252.0" x2="227.1" y2="253.0" stroke="#666" stroke-width="0.4"/>
<line x1="231.4" y1="252.0" x2="231.4" y2="253.0" stroke="#666" stroke-width="0.4"/>
<line x1="235.7" y1="252.0" x2="235.7" y2="253.0" stroke="#666" stroke-width="0.4"/>
<line x1="240.0" y1="252.0" x2="240.0" y2="253.0" stroke="#666" stroke-width="0.4"/>
<line x1="244.3" y1="252.0" x2="244.3" y2="253.0" stroke="#666" stroke-width="0.4"/>
<line x1="248.6" y1="252.0" x2="248.6" y2="253.0" stroke="#666" stroke-width="0.4"/>
<line x1="252.9" y1="252.0" x2="252.9" y2="253.0" stroke="#666" stroke-width="0.4"/>
<line x1="257.2" y1="252.0" x2="257.2" y2="253.0" stroke="#666" stroke-width="0.4"/>
<line x1="261.5" y1="252.0" x2="261.5" y2="253.0" stroke="#666" stroke-width="0.4"/>
<line x1="265.8" y1="252.0" x2="265.8" y2="253.0" stroke="#666" stroke-width="0.4"/>
<line x1="270.1" y1="252.0" x2="270.1" y2="253.0" stroke="#666" stroke-width="0.4"/>
<line x1="274.4" y1="252.0" x2="274.4" y2="253.0" stroke="#666" stroke-width="0.4"/>
<line x1="278.7" y1="252.0" x2="278.7" y2="253.0" stroke="#666" stroke-width="0.4"/>
<line x1="283.0" y1="252.0" x2="283.0" y2="253.0" stroke="#666" stroke-width="0.4"/>
<line x1="287.3" y1="252.0" x2="287.3" y2="253.0" stroke="#666" stroke-width="0.4"/>
<line x1="291.6" y1="252.0" x2="291.6" y2="253.0" stroke="#666" stroke-width="0.4"/>
<line x1="295.9" y1="252.0" x2="295.9" y2="253.0" stroke="#666" stroke-width="0.4"/>
<line x1="300.2" y1="252.0" x2="300.2" y2="253.0" stroke="#666" stroke-width="0.4"/>
<line x1="304.5" y1="252.0" x2="304.5" y2="253.0" stroke="#666" stroke-width="0.4"/>
<line x1="308.8" y1="252.0" x2="308.8" y2="253.0" stroke="#666" stroke-width="0.4"/>
<line x1="313.1" y1="252.0" x2="313.1" y2="253.0" stroke="#666" stroke-width="0.4"/>
<line x1="317.4" y1="252.0" x2="317.4" y2="253.0" stroke="#666" stroke-width="0.4"/>
<line x1="321.7" y1="252.0" x2="321.7" y2="253.0" stroke="#666" stroke-width="0.4"/>
<line x1="326.0" y1="252.0" x2="326.0" y2="253.0" stroke="#666" stroke-width="0.4"/>
<line x1="330.3" y1="252.0" x2="330.3" y2="253.0" stroke="#666" stroke-width="0.4"/>
<line x1="334.6" y1="252.0" x2="334.6" y2="253.0" stroke="#666" stroke-width="0.4"/>
<text transform="translate(180.8,200.8) rotate(-90)" font-size="5.6" fill="#333" text-anchor="middle">cps</text>
<text x="331.5" y="266" font-size="4.6" fill="#444" text-anchor="middle" >μm</text>
<rect x="209.1" y="190" width="1.1" height="53" fill="#444"/>
<rect x="215.5" y="190" width="1.1" height="53" fill="#444"/>
<polyline points="197.0,218.2 197.5,217.7 198.0,220.9 198.5,221.2 199.1,219.9 199.6,222.3 200.1,217.3 200.6,223.7 201.1,221.6 201.6,220.2 202.2,220.2 202.7,219.5 203.2,219.4 203.7,220.2 204.2,218.0 204.7,223.4 205.3,219.9 205.8,221.1 206.3,219.7 206.8,219.6 207.3,221.4 207.8,221.0 208.4,218.7 208.9,219.4 209.4,221.1 209.9,216.7 210.4,214.4 210.9,218.2 211.4,210.6 212.0,201.8 212.5,200.6 213.0,196.1 213.5,203.2 214.0,215.7 214.5,228.4 215.1,242.5 215.6,241.8 216.1,243.2 216.6,243.6 217.1,244.6 217.6,244.1 218.2,244.8 218.7,244.2 219.2,243.2 219.7,243.8 220.2,243.7 220.7,243.8 221.3,244.1 221.8,244.2 222.3,244.4 222.8,243.5 223.3,245.0 223.8,243.1 224.3,244.1 224.9,244.8 225.4,244.6 225.9,244.8 226.4,244.1 226.9,244.8 227.4,243.3 228.0,244.9 228.5,246.1 229.0,244.9 229.5,245.9 230.0,244.3 230.5,243.5 231.1,243.8 231.6,245.4 232.1,244.9 232.6,242.9 233.1,244.1 233.6,244.4 234.2,243.5 234.7,242.4 235.2,243.4 235.7,244.3 236.2,244.1 236.7,244.0 237.2,244.9 237.8,245.3 238.3,244.4 238.8,245.2 239.3,244.5 239.8,244.4 240.3,242.7 240.9,245.2 241.4,244.6 241.9,244.7 242.4,244.2 242.9,243.8 243.4,245.0 244.0,245.2 244.5,245.9 245.0,245.3 245.5,244.2 246.0,244.6 246.5,245.4 247.1,245.0 247.6,244.6 248.1,244.3 248.6,245.2 249.1,244.9 249.6,246.1 250.1,245.6 250.7,243.5 251.2,246.4 251.7,245.0 252.2,244.6 252.7,245.1 253.2,245.4 253.8,244.8 254.3,244.8 254.8,244.9 255.3,246.3 255.8,244.9 256.3,245.5 256.9,245.3 257.4,244.7 257.9,244.4 258.4,244.2 258.9,245.3 259.4,244.2 260.0,244.0 260.5,244.1 261.0,243.9 261.5,245.1 262.0,245.1 262.5,244.3 263.0,246.0 263.6,244.8 264.1,245.4 264.6,245.3 265.1,246.3 265.6,245.7 266.1,245.1 266.7,244.4 267.2,244.3 267.7,245.1 268.2,245.2 268.7,245.7 269.2,244.8 269.8,245.3 270.3,244.7 270.8,243.8 271.3,245.2 271.8,246.3 272.3,245.8 272.9,246.3 273.4,246.1 273.9,244.2 274.4,245.0 274.9,246.3 275.4,244.7 275.9,244.3 276.5,245.5 277.0,245.8 277.5,245.5 278.0,245.1 278.5,244.8 279.0,244.4 279.6,244.4 280.1,244.4 280.6,244.3 281.1,244.8 281.6,246.5 282.1,245.4 282.7,245.1 283.2,245.6 283.7,244.7 284.2,245.7 284.7,246.1 285.2,244.3 285.8,244.9 286.3,245.3 286.8,244.8 287.3,244.7 287.8,245.2 288.3,247.3 288.8,246.0 289.4,245.8 289.9,246.2 290.4,245.4 290.9,244.7 291.4,245.9 291.9,246.4 292.5,244.1 293.0,245.9 293.5,246.5 294.0,245.5 294.5,245.3 295.0,246.2 295.6,245.1 296.1,246.0 296.6,246.4 297.1,245.6 297.6,245.2 298.1,246.2 298.7,245.5 299.2,245.8 299.7,243.7 300.2,246.3 300.7,244.8 301.2,245.8 301.7,245.9 302.3,245.3 302.8,245.2 303.3,244.9 303.8,245.6 304.3,246.3 304.8,246.3 305.4,245.5 305.9,245.5 306.4,244.9 306.9,245.6 307.4,245.2 307.9,244.9 308.5,245.9 309.0,247.0 309.5,246.8 310.0,247.0 310.5,244.9 311.0,246.6 311.6,245.2 312.1,245.7 312.6,244.9 313.1,245.4 313.6,246.2 314.1,246.3 314.6,246.1 315.2,246.0 315.7,246.5 316.2,246.2 316.7,245.1 317.2,247.4 317.7,246.0 318.3,246.8 318.8,246.1 319.3,245.7 319.8,246.3 320.3,245.7 320.8,247.4 321.4,245.5 321.9,246.7 322.4,245.9 322.9,246.2 323.4,248.1 323.9,246.9 324.5,246.4 325.0,246.1 325.5,247.5 326.0,248.1 326.5,249.1 327.0,247.6 327.5,247.5 328.1,248.5 328.6,248.7 329.1,249.5" fill="none" stroke="#ff4a4a" stroke-width="0.85" stroke-opacity="1.0" stroke-linejoin="round"/>
<polyline points="197.0,155.3 197.5,149.1 198.0,155.7 198.5,153.8 199.1,156.1 199.6,161.2 200.1,153.4 200.6,161.9 201.1,158.4 201.6,156.7 202.2,154.6 202.7,156.1 203.2,156.2 203.7,160.0 204.2,162.0 204.7,157.8 205.3,160.8 205.8,163.2 206.3,163.5 206.8,161.3 207.3,166.2 207.8,164.9 208.4,167.7 208.9,166.8 209.4,163.7 209.9,152.3 210.4,163.7 210.9,160.7 211.4,164.2 212.0,194.5 212.5,219.5 213.0,233.9 213.5,239.1 214.0,242.5 214.5,243.5 215.1,241.7 215.6,241.8 216.1,243.6 216.6,243.2 217.1,241.6 217.6,241.5 218.2,242.9 218.7,241.5 219.2,241.6 219.7,244.2 220.2,242.6 220.7,241.8 221.3,242.9 221.8,244.6 222.3,242.6 222.8,241.5 223.3,240.7 223.8,244.7 224.3,239.6 224.9,243.6 225.4,241.4 225.9,241.1 226.4,241.4 226.9,242.3 227.4,243.7 228.0,241.8 228.5,243.3 229.0,245.2 229.5,239.6 230.0,241.8 230.5,240.7 231.1,243.6 231.6,241.1 232.1,240.9 232.6,241.0 233.1,242.7 233.6,243.9 234.2,242.8 234.7,245.0 235.2,244.4 235.7,242.6 236.2,243.7 236.7,242.8 237.2,242.8 237.8,240.6 238.3,241.3 238.8,242.7 239.3,241.4 239.8,243.5 240.3,243.0 240.9,241.7 241.4,244.0 241.9,243.0 242.4,244.1 242.9,242.6 243.4,241.0 244.0,243.5 244.5,242.5 245.0,243.7 245.5,243.9 246.0,244.0 246.5,241.2 247.1,240.2 247.6,242.2 248.1,243.5 248.6,242.0 249.1,243.1 249.6,241.9 250.1,242.5 250.7,242.5 251.2,242.1 251.7,243.4 252.2,243.2 252.7,244.6 253.2,243.2 253.8,244.3 254.3,242.9 254.8,243.8 255.3,242.7 255.8,242.3 256.3,244.3 256.9,243.7 257.4,243.8 257.9,242.0 258.4,241.0 258.9,241.9 259.4,243.2 260.0,241.3 260.5,244.4 261.0,241.3 261.5,243.5 262.0,245.8 262.5,240.1 263.0,241.2 263.6,243.9 264.1,242.7 264.6,243.1 265.1,242.8 265.6,244.4 266.1,243.6 266.7,242.4 267.2,242.7 267.7,241.6 268.2,242.8 268.7,240.5 269.2,243.7 269.8,242.6 270.3,244.9 270.8,244.2 271.3,241.6 271.8,243.9 272.3,242.4 272.9,243.0 273.4,244.0 273.9,243.3 274.4,243.5 274.9,243.5 275.4,242.2 275.9,242.3 276.5,243.6 277.0,243.9 277.5,242.7 278.0,243.1 278.5,242.0 279.0,240.3 279.6,242.2 280.1,243.1 280.6,243.2 281.1,243.9 281.6,244.0 282.1,244.1 282.7,243.5 283.2,243.5 283.7,242.3 284.2,243.5 284.7,243.3 285.2,244.4 285.8,241.4 286.3,242.6 286.8,241.3 287.3,242.3 287.8,241.6 288.3,243.4 288.8,242.4 289.4,240.4 289.9,244.4 290.4,242.0 290.9,241.4 291.4,242.7 291.9,242.4 292.5,241.9 293.0,243.9 293.5,242.8 294.0,244.1 294.5,243.9 295.0,243.9 295.6,243.4 296.1,243.1 296.6,242.8 297.1,244.7 297.6,241.2 298.1,242.1 298.7,242.5 299.2,243.6 299.7,243.4 300.2,242.7 300.7,242.9 301.2,245.1 301.7,242.5 302.3,240.3 302.8,245.3 303.3,242.3 303.8,243.0 304.3,243.5 304.8,241.9 305.4,244.6 305.9,243.2 306.4,241.9 306.9,243.6 307.4,243.8 307.9,243.3 308.5,243.9 309.0,241.8 309.5,244.4 310.0,242.5 310.5,244.8 311.0,242.8 311.6,243.6 312.1,246.2 312.6,243.5 313.1,244.6 313.6,244.0 314.1,241.9 314.6,244.7 315.2,244.6 315.7,242.0 316.2,243.4 316.7,242.0 317.2,243.2 317.7,244.5 318.3,243.6 318.8,242.3 319.3,242.6 319.8,243.6 320.3,243.6 320.8,243.7 321.4,244.2 321.9,241.6 322.4,243.6 322.9,244.8 323.4,244.1 323.9,242.9 324.5,243.0 325.0,243.8 325.5,244.4 326.0,243.7 326.5,245.6 327.0,245.5 327.5,243.7 328.1,245.2 328.6,244.6 329.1,244.1" fill="none" stroke="#4a86e8" stroke-width="0.85" stroke-opacity="1.0" stroke-linejoin="round"/>
<polyline points="197.0,238.7 197.5,239.5 198.0,236.7 198.5,238.6 199.1,240.0 199.6,238.6 200.1,239.0 200.6,240.7 201.1,239.5 201.6,239.8 202.2,242.2 202.7,239.8 203.2,239.9 203.7,240.1 204.2,241.8 204.7,240.0 205.3,239.6 205.8,239.4 206.3,241.1 206.8,238.7 207.3,241.2 207.8,239.9 208.4,237.8 208.9,240.5 209.4,240.2 209.9,238.1 210.4,240.1 210.9,240.0 211.4,239.2 212.0,238.1 212.5,242.5 213.0,237.1 213.5,233.8 214.0,230.4 214.5,223.9 215.1,216.6 215.6,206.4 216.1,203.9 216.6,198.9 217.1,195.8 217.6,196.9 218.2,194.3 218.7,189.9 219.2,193.7 219.7,196.5 220.2,194.8 220.7,197.2 221.3,193.7 221.8,192.0 222.3,196.9 222.8,195.1 223.3,191.2 223.8,195.8 224.3,193.8 224.9,197.3 225.4,196.7 225.9,195.8 226.4,188.1 226.9,195.4 227.4,195.7 228.0,195.8 228.5,194.6 229.0,192.2 229.5,193.5 230.0,188.2 230.5,193.4 231.1,189.9 231.6,193.2 232.1,192.3 232.6,198.1 233.1,194.3 233.6,194.2 234.2,194.7 234.7,200.1 235.2,191.5 235.7,195.1 236.2,195.2 236.7,194.7 237.2,194.6 237.8,192.8 238.3,197.6 238.8,196.6 239.3,193.1 239.8,193.5 240.3,195.0 240.9,195.6 241.4,196.3 241.9,194.1 242.4,190.6 242.9,197.0 243.4,189.6 244.0,191.5 244.5,195.2 245.0,191.7 245.5,198.1 246.0,198.9 246.5,197.6 247.1,195.1 247.6,194.9 248.1,195.4 248.6,193.7 249.1,200.0 249.6,192.5 250.1,198.0 250.7,195.8 251.2,195.1 251.7,197.2 252.2,197.8 252.7,196.8 253.2,194.0 253.8,192.2 254.3,192.3 254.8,196.8 255.3,196.2 255.8,196.6 256.3,192.6 256.9,199.7 257.4,190.4 257.9,195.3 258.4,196.2 258.9,192.9 259.4,191.0 260.0,192.9 260.5,190.9 261.0,193.5 261.5,190.4 262.0,190.4 262.5,194.2 263.0,189.8 263.6,193.4 264.1,193.7 264.6,196.5 265.1,194.7 265.6,191.7 266.1,197.6 266.7,192.0 267.2,192.9 267.7,193.1 268.2,200.2 268.7,194.2 269.2,192.0 269.8,196.1 270.3,193.6 270.8,200.7 271.3,192.0 271.8,195.8 272.3,191.4 272.9,199.2 273.4,191.9 273.9,194.6 274.4,191.6 274.9,196.5 275.4,195.7 275.9,187.5 276.5,196.3 277.0,195.9 277.5,194.7 278.0,196.8 278.5,190.5 279.0,189.0 279.6,195.9 280.1,198.8 280.6,190.6 281.1,190.7 281.6,191.6 282.1,190.6 282.7,196.4 283.2,194.4 283.7,197.9 284.2,197.9 284.7,191.1 285.2,195.8 285.8,187.4 286.3,193.7 286.8,195.7 287.3,191.6 287.8,188.8 288.3,192.5 288.8,197.4 289.4,192.8 289.9,190.0 290.4,195.3 290.9,196.1 291.4,191.0 291.9,193.5 292.5,197.0 293.0,195.0 293.5,196.1 294.0,193.1 294.5,193.6 295.0,190.6 295.6,191.9 296.1,198.4 296.6,192.7 297.1,191.3 297.6,192.6 298.1,191.0 298.7,195.5 299.2,196.6 299.7,191.2 300.2,196.9 300.7,200.1 301.2,191.0 301.7,196.0 302.3,194.8 302.8,197.9 303.3,197.7 303.8,197.2 304.3,194.9 304.8,192.8 305.4,200.5 305.9,191.8 306.4,197.3 306.9,196.9 307.4,192.0 307.9,194.1 308.5,198.3 309.0,188.6 309.5,196.4 310.0,193.2 310.5,193.3 311.0,189.9 311.6,195.2 312.1,191.0 312.6,196.0 313.1,190.7 313.6,196.1 314.1,194.9 314.6,188.5 315.2,193.0 315.7,193.6 316.2,187.5 316.7,192.9 317.2,196.2 317.7,191.8 318.3,197.3 318.8,190.7 319.3,190.5 319.8,195.5 320.3,195.7 320.8,193.4 321.4,196.4 321.9,201.5 322.4,199.9 322.9,209.2 323.4,207.4 323.9,209.8 324.5,211.6 325.0,211.5 325.5,216.4 326.0,213.6 326.5,216.6 327.0,219.0 327.5,221.8 328.1,222.7 328.6,220.8 329.1,223.9" fill="none" stroke="#33aa66" stroke-width="0.85" stroke-opacity="1.0" stroke-linejoin="round"/>
<polyline points="197.0,244.5 197.5,243.8 198.0,243.8 198.5,243.4 199.1,244.7 199.6,245.3 200.1,243.8 200.6,244.3 201.1,243.7 201.6,244.5 202.2,243.7 202.7,243.9 203.2,244.0 203.7,244.2 204.2,244.2 204.7,244.4 205.3,244.4 205.8,243.8 206.3,244.9 206.8,243.3 207.3,244.6 207.8,243.8 208.4,244.6 208.9,244.7 209.4,243.1 209.9,244.7 210.4,245.4 210.9,245.0 211.4,244.8 212.0,243.0 212.5,244.4 213.0,243.9 213.5,243.6 214.0,237.2 214.5,231.6 215.1,224.8 215.6,223.0 216.1,216.0 216.6,211.3 217.1,211.8 217.6,210.1 218.2,210.5 218.7,214.0 219.2,209.1 219.7,209.2 220.2,210.8 220.7,212.3 221.3,207.6 221.8,209.6 222.3,208.4 222.8,207.7 223.3,211.0 223.8,208.7 224.3,210.5 224.9,210.2 225.4,210.2 225.9,210.1 226.4,208.2 226.9,209.9 227.4,210.3 228.0,210.5 228.5,209.5 229.0,211.6 229.5,210.9 230.0,210.2 230.5,211.0 231.1,210.3 231.6,211.1 232.1,206.7 232.6,207.9 233.1,209.3 233.6,210.2 234.2,206.4 234.7,209.5 235.2,210.2 235.7,209.6 236.2,209.6 236.7,207.7 237.2,210.1 237.8,206.6 238.3,211.6 238.8,208.9 239.3,211.8 239.8,207.0 240.3,210.6 240.9,210.2 241.4,208.5 241.9,208.0 242.4,212.0 242.9,210.7 243.4,212.4 244.0,209.9 244.5,210.3 245.0,210.7 245.5,211.2 246.0,210.7 246.5,211.3 247.1,209.2 247.6,207.5 248.1,213.3 248.6,210.3 249.1,210.8 249.6,209.3 250.1,211.7 250.7,210.4 251.2,211.9 251.7,209.0 252.2,210.0 252.7,210.5 253.2,209.6 253.8,210.6 254.3,212.8 254.8,209.2 255.3,209.8 255.8,210.5 256.3,208.6 256.9,208.2 257.4,212.1 257.9,211.6 258.4,207.7 258.9,208.0 259.4,211.6 260.0,212.3 260.5,211.4 261.0,211.2 261.5,213.0 262.0,210.4 262.5,212.6 263.0,212.5 263.6,208.9 264.1,211.6 264.6,210.6 265.1,209.4 265.6,209.1 266.1,211.1 266.7,210.4 267.2,211.9 267.7,207.6 268.2,209.5 268.7,212.4 269.2,210.6 269.8,209.4 270.3,209.8 270.8,207.6 271.3,208.3 271.8,211.5 272.3,210.8 272.9,212.8 273.4,210.3 273.9,210.4 274.4,206.2 274.9,210.6 275.4,214.2 275.9,211.9 276.5,210.6 277.0,212.9 277.5,212.2 278.0,211.4 278.5,210.2 279.0,211.1 279.6,212.3 280.1,209.5 280.6,211.8 281.1,211.7 281.6,213.2 282.1,212.2 282.7,209.8 283.2,213.6 283.7,211.1 284.2,209.9 284.7,211.7 285.2,210.8 285.8,213.1 286.3,209.1 286.8,209.6 287.3,211.0 287.8,214.4 288.3,213.3 288.8,210.0 289.4,208.9 289.9,211.3 290.4,209.8 290.9,212.9 291.4,212.2 291.9,212.0 292.5,211.4 293.0,214.6 293.5,210.6 294.0,210.1 294.5,214.2 295.0,214.6 295.6,211.9 296.1,213.6 296.6,216.4 297.1,211.3 297.6,212.4 298.1,213.5 298.7,209.4 299.2,212.6 299.7,214.1 300.2,212.8 300.7,214.7 301.2,214.3 301.7,212.5 302.3,214.0 302.8,213.9 303.3,210.5 303.8,211.9 304.3,212.0 304.8,212.5 305.4,212.6 305.9,211.0 306.4,213.4 306.9,210.5 307.4,215.0 307.9,213.9 308.5,215.8 309.0,214.1 309.5,212.8 310.0,211.3 310.5,214.8 311.0,213.7 311.6,214.3 312.1,215.0 312.6,215.9 313.1,214.1 313.6,217.1 314.1,214.4 314.6,214.7 315.2,216.0 315.7,216.7 316.2,217.5 316.7,212.6 317.2,217.8 317.7,213.5 318.3,215.2 318.8,216.9 319.3,218.3 319.8,215.1 320.3,214.3 320.8,218.6 321.4,218.6 321.9,217.6 322.4,219.6 322.9,218.2 323.4,222.9 323.9,222.4 324.5,225.7 325.0,221.7 325.5,226.2 326.0,228.7 326.5,226.5 327.0,227.1 327.5,225.1 328.1,228.6 328.6,228.8 329.1,228.3" fill="none" stroke="#9966dd" stroke-width="0.85" stroke-opacity="1.0" stroke-linejoin="round"/>
<polyline points="197.0,244.3 197.5,245.4 198.0,244.7 198.5,245.1 199.1,245.7 199.6,245.4 200.1,245.5 200.6,246.2 201.1,244.8 201.6,246.5 202.2,244.9 202.7,245.0 203.2,245.8 203.7,246.2 204.2,245.9 204.7,245.5 205.3,245.3 205.8,245.6 206.3,245.2 206.8,246.2 207.3,245.8 207.8,246.9 208.4,245.5 208.9,245.9 209.4,246.3 209.9,245.3 210.4,245.6 210.9,247.9 211.4,246.1 212.0,247.1 212.5,245.5 213.0,245.2 213.5,245.4 214.0,239.0 214.5,233.4 215.1,226.6 215.6,220.4 216.1,213.6 216.6,211.6 217.1,205.3 217.6,209.6 218.2,207.5 218.7,205.9 219.2,206.6 219.7,209.5 220.2,209.0 220.7,208.6 221.3,207.8 221.8,205.7 222.3,209.9 222.8,206.9 223.3,206.6 223.8,206.6 224.3,206.8 224.9,204.9 225.4,206.7 225.9,206.0 226.4,206.5 226.9,204.3 227.4,210.7 228.0,205.2 228.5,207.8 229.0,207.8 229.5,209.0 230.0,210.5 230.5,207.9 231.1,208.4 231.6,206.3 232.1,209.7 232.6,204.7 233.1,206.7 233.6,207.6 234.2,208.3 234.7,208.5 235.2,209.1 235.7,208.0 236.2,207.1 236.7,207.4 237.2,209.5 237.8,207.5 238.3,208.6 238.8,206.7 239.3,203.7 239.8,205.9 240.3,207.5 240.9,209.8 241.4,209.4 241.9,209.9 242.4,205.7 242.9,208.2 243.4,206.8 244.0,208.0 244.5,206.7 245.0,204.4 245.5,208.0 246.0,207.4 246.5,208.2 247.1,205.3 247.6,208.6 248.1,208.8 248.6,209.2 249.1,209.2 249.6,205.9 250.1,202.2 250.7,208.5 251.2,205.0 251.7,206.3 252.2,208.6 252.7,207.1 253.2,207.1 253.8,207.8 254.3,203.3 254.8,209.9 255.3,205.9 255.8,206.0 256.3,207.6 256.9,206.3 257.4,205.0 257.9,206.3 258.4,205.8 258.9,205.3 259.4,210.1 260.0,203.9 260.5,202.5 261.0,204.8 261.5,204.7 262.0,208.9 262.5,206.6 263.0,207.8 263.6,207.4 264.1,204.7 264.6,207.8 265.1,206.6 265.6,209.7 266.1,206.6 266.7,206.2 267.2,207.6 267.7,207.6 268.2,203.0 268.7,208.4 269.2,208.1 269.8,207.7 270.3,204.2 270.8,202.6 271.3,205.7 271.8,207.5 272.3,207.0 272.9,204.4 273.4,207.9 273.9,203.7 274.4,203.8 274.9,206.1 275.4,205.1 275.9,204.9 276.5,203.5 277.0,208.1 277.5,204.1 278.0,206.9 278.5,207.5 279.0,206.0 279.6,206.6 280.1,207.9 280.6,209.0 281.1,207.8 281.6,203.6 282.1,202.7 282.7,205.0 283.2,204.1 283.7,207.0 284.2,206.3 284.7,205.6 285.2,208.0 285.8,207.8 286.3,205.9 286.8,206.7 287.3,208.0 287.8,205.4 288.3,206.5 288.8,204.3 289.4,206.1 289.9,206.6 290.4,205.8 290.9,206.3 291.4,207.2 291.9,206.7 292.5,204.7 293.0,204.9 293.5,203.8 294.0,209.0 294.5,206.7 295.0,206.7 295.6,205.7 296.1,206.8 296.6,206.9 297.1,204.6 297.6,205.7 298.1,208.0 298.7,203.6 299.2,204.2 299.7,207.0 300.2,204.5 300.7,207.2 301.2,204.0 301.7,206.3 302.3,207.3 302.8,206.6 303.3,207.3 303.8,205.6 304.3,205.6 304.8,205.9 305.4,206.9 305.9,212.4 306.4,205.8 306.9,209.3 307.4,205.5 307.9,203.9 308.5,205.5 309.0,206.6 309.5,206.3 310.0,206.2 310.5,206.9 311.0,207.0 311.6,207.6 312.1,203.8 312.6,206.0 313.1,204.3 313.6,206.4 314.1,205.8 314.6,206.2 315.2,205.1 315.7,204.5 316.2,205.5 316.7,207.1 317.2,207.3 317.7,203.0 318.3,206.4 318.8,206.4 319.3,203.4 319.8,204.0 320.3,205.0 320.8,206.6 321.4,203.2 321.9,207.9 322.4,208.9 322.9,211.4 323.4,214.8 323.9,215.9 324.5,214.4 325.0,215.6 325.5,217.7 326.0,220.3 326.5,221.8 327.0,221.3 327.5,224.1 328.1,221.9 328.6,222.8 329.1,220.7" fill="none" stroke="#444" stroke-width="0.85" stroke-opacity="1.0" stroke-linejoin="round"/>
<text x="198" y="177.3" font-size="6.3" fill="#2a2a2a" text-anchor="start" textLength="25.4" lengthAdjust="spacingAndGlyphs" >substrate</text>
<text x="232" y="181.6" font-size="6.3" fill="#2a2a2a" text-anchor="start" textLength="31.2" lengthAdjust="spacingAndGlyphs" >Cr-rich layer</text>
<text x="272" y="184.3" font-size="6.3" fill="#2a2a2a" text-anchor="start" textLength="28.1" lengthAdjust="spacingAndGlyphs" >oxide layer</text>
<line x1="248" y1="186" x2="219.9" y2="197.9" stroke="#111" stroke-width="0.8"/><polygon points="218.5,198.5 220.5,196.2 221.5,198.6" fill="#111"/>
<line x1="193.0" y1="264.8" x2="198.0" y2="264.8" stroke="#777" stroke-width="0.7"/>
<text x="198.5" y="265.7" font-size="2.6" fill="#555">Cr Ka1</text>
<line x1="209.0" y1="264.8" x2="214.0" y2="264.8" stroke="#ff6666" stroke-width="0.7"/>
<text x="214.5" y="265.7" font-size="2.6" fill="#555">O Ka1</text>
<line x1="225.0" y1="264.8" x2="230.0" y2="264.8" stroke="#4a90e2" stroke-width="0.7"/>
<text x="230.5" y="265.7" font-size="2.6" fill="#555">Fe Ka1</text>
<line x1="241.0" y1="264.8" x2="246.0" y2="264.8" stroke="#3caa6a" stroke-width="0.7"/>
<text x="246.5" y="265.7" font-size="2.6" fill="#555">Mn Ka1</text>
<line x1="257.0" y1="264.8" x2="262.0" y2="264.8" stroke="#a070d8" stroke-width="0.7"/>
<text x="262.5" y="265.7" font-size="2.6" fill="#555">Si Ka1</text>
<line x1="203.5" y1="282.3" x2="203.5" y2="394.4" stroke="#505050" stroke-width="0.9"/>
<line x1="203.5" y1="394.4" x2="339.5" y2="394.4" stroke="#505050" stroke-width="0.9"/>
<line x1="201.9" y1="394.4" x2="203.5" y2="394.4" stroke="#555" stroke-width="0.6"/>
<text x="200.5" y="396.3" font-size="5.4" text-anchor="end" fill="#333">0</text>
<line x1="201.9" y1="377.2" x2="203.5" y2="377.2" stroke="#555" stroke-width="0.6"/>
<text x="200.5" y="379.1" font-size="5.4" text-anchor="end" fill="#333">200</text>
<line x1="201.9" y1="360.0" x2="203.5" y2="360.0" stroke="#555" stroke-width="0.6"/>
<text x="200.5" y="361.9" font-size="5.4" text-anchor="end" fill="#333">400</text>
<line x1="201.9" y1="342.8" x2="203.5" y2="342.8" stroke="#555" stroke-width="0.6"/>
<text x="200.5" y="344.7" font-size="5.4" text-anchor="end" fill="#333">600</text>
<line x1="201.9" y1="325.6" x2="203.5" y2="325.6" stroke="#555" stroke-width="0.6"/>
<text x="200.5" y="327.5" font-size="5.4" text-anchor="end" fill="#333">800</text>
<line x1="201.9" y1="308.4" x2="203.5" y2="308.4" stroke="#555" stroke-width="0.6"/>
<text x="200.5" y="310.3" font-size="5.4" text-anchor="end" fill="#333">1000</text>
<line x1="201.9" y1="291.2" x2="203.5" y2="291.2" stroke="#555" stroke-width="0.6"/>
<text x="200.5" y="293.1" font-size="5.4" text-anchor="end" fill="#333">1200</text>
<line x1="203.5" y1="394.4" x2="203.5" y2="396.0" stroke="#555" stroke-width="0.6"/>
<text x="203.5" y="401.9" font-size="5.4" text-anchor="middle" fill="#333">0</text>
<line x1="220.8" y1="394.4" x2="220.8" y2="396.0" stroke="#555" stroke-width="0.6"/>
<text x="220.8" y="401.9" font-size="5.4" text-anchor="middle" fill="#333">20</text>
<line x1="238.0" y1="394.4" x2="238.0" y2="396.0" stroke="#555" stroke-width="0.6"/>
<text x="238.0" y="401.9" font-size="5.4" text-anchor="middle" fill="#333">40</text>
<line x1="255.2" y1="394.4" x2="255.2" y2="396.0" stroke="#555" stroke-width="0.6"/>
<text x="255.2" y="401.9" font-size="5.4" text-anchor="middle" fill="#333">60</text>
<line x1="272.5" y1="394.4" x2="272.5" y2="396.0" stroke="#555" stroke-width="0.6"/>
<text x="272.5" y="401.9" font-size="5.4" text-anchor="middle" fill="#333">80</text>
<line x1="289.8" y1="394.4" x2="289.8" y2="396.0" stroke="#555" stroke-width="0.6"/>
<text x="289.8" y="401.9" font-size="5.4" text-anchor="middle" fill="#333">100</text>
<line x1="307.0" y1="394.4" x2="307.0" y2="396.0" stroke="#555" stroke-width="0.6"/>
<text x="307.0" y="401.9" font-size="5.4" text-anchor="middle" fill="#333">120</text>
<line x1="324.2" y1="394.4" x2="324.2" y2="396.0" stroke="#555" stroke-width="0.6"/>
<text x="324.2" y="401.9" font-size="5.4" text-anchor="middle" fill="#333">140</text>
<line x1="341.5" y1="394.4" x2="341.5" y2="396.0" stroke="#555" stroke-width="0.6"/>
<text x="341.5" y="401.9" font-size="5.4" text-anchor="middle" fill="#333">160</text>
<line x1="203.5" y1="394.4" x2="203.5" y2="395.4" stroke="#666" stroke-width="0.4"/>
<line x1="207.8" y1="394.4" x2="207.8" y2="395.4" stroke="#666" stroke-width="0.4"/>
<line x1="212.1" y1="394.4" x2="212.1" y2="395.4" stroke="#666" stroke-width="0.4"/>
<line x1="216.4" y1="394.4" x2="216.4" y2="395.4" stroke="#666" stroke-width="0.4"/>
<line x1="220.8" y1="394.4" x2="220.8" y2="395.4" stroke="#666" stroke-width="0.4"/>
<line x1="225.1" y1="394.4" x2="225.1" y2="395.4" stroke="#666" stroke-width="0.4"/>
<line x1="229.4" y1="394.4" x2="229.4" y2="395.4" stroke="#666" stroke-width="0.4"/>
<line x1="233.7" y1="394.4" x2="233.7" y2="395.4" stroke="#666" stroke-width="0.4"/>
<line x1="238.0" y1="394.4" x2="238.0" y2="395.4" stroke="#666" stroke-width="0.4"/>
<line x1="242.3" y1="394.4" x2="242.3" y2="395.4" stroke="#666" stroke-width="0.4"/>
<line x1="246.6" y1="394.4" x2="246.6" y2="395.4" stroke="#666" stroke-width="0.4"/>
<line x1="250.9" y1="394.4" x2="250.9" y2="395.4" stroke="#666" stroke-width="0.4"/>
<line x1="255.2" y1="394.4" x2="255.2" y2="395.4" stroke="#666" stroke-width="0.4"/>
<line x1="259.6" y1="394.4" x2="259.6" y2="395.4" stroke="#666" stroke-width="0.4"/>
<line x1="263.9" y1="394.4" x2="263.9" y2="395.4" stroke="#666" stroke-width="0.4"/>
<line x1="268.2" y1="394.4" x2="268.2" y2="395.4" stroke="#666" stroke-width="0.4"/>
<line x1="272.5" y1="394.4" x2="272.5" y2="395.4" stroke="#666" stroke-width="0.4"/>
<line x1="276.8" y1="394.4" x2="276.8" y2="395.4" stroke="#666" stroke-width="0.4"/>
<line x1="281.1" y1="394.4" x2="281.1" y2="395.4" stroke="#666" stroke-width="0.4"/>
<line x1="285.4" y1="394.4" x2="285.4" y2="395.4" stroke="#666" stroke-width="0.4"/>
<line x1="289.8" y1="394.4" x2="289.8" y2="395.4" stroke="#666" stroke-width="0.4"/>
<line x1="294.1" y1="394.4" x2="294.1" y2="395.4" stroke="#666" stroke-width="0.4"/>
<line x1="298.4" y1="394.4" x2="298.4" y2="395.4" stroke="#666" stroke-width="0.4"/>
<line x1="302.7" y1="394.4" x2="302.7" y2="395.4" stroke="#666" stroke-width="0.4"/>
<line x1="307.0" y1="394.4" x2="307.0" y2="395.4" stroke="#666" stroke-width="0.4"/>
<line x1="311.3" y1="394.4" x2="311.3" y2="395.4" stroke="#666" stroke-width="0.4"/>
<line x1="315.6" y1="394.4" x2="315.6" y2="395.4" stroke="#666" stroke-width="0.4"/>
<line x1="319.9" y1="394.4" x2="319.9" y2="395.4" stroke="#666" stroke-width="0.4"/>
<line x1="324.2" y1="394.4" x2="324.2" y2="395.4" stroke="#666" stroke-width="0.4"/>
<line x1="328.6" y1="394.4" x2="328.6" y2="395.4" stroke="#666" stroke-width="0.4"/>
<line x1="332.9" y1="394.4" x2="332.9" y2="395.4" stroke="#666" stroke-width="0.4"/>
<line x1="337.2" y1="394.4" x2="337.2" y2="395.4" stroke="#666" stroke-width="0.4"/>
<text transform="translate(186.4,335.5) rotate(-90)" font-size="5.6" fill="#333" text-anchor="middle">cps</text>
<text x="338.8" y="410" font-size="4.6" fill="#444" text-anchor="middle" >μm</text>
<rect x="225.8" y="326" width="1.1" height="58" fill="#444"/>
<rect x="232.0" y="326" width="1.1" height="58" fill="#444"/>
<polyline points="203.5,389.2 204.0,390.0 204.5,390.1 205.1,391.4 205.6,390.0 206.1,389.8 206.6,389.2 207.1,389.4 207.6,389.4 208.2,389.6 208.7,389.3 209.2,388.9 209.7,390.2 210.2,389.9 210.7,390.4 211.3,388.8 211.8,389.0 212.3,389.3 212.8,390.3 213.3,389.6 213.8,389.8 214.4,389.6 214.9,389.8 215.4,389.4 215.9,389.9 216.4,389.2 217.0,389.5 217.5,389.8 218.0,389.7 218.5,389.9 219.0,389.3 219.5,389.8 220.1,389.5 220.6,389.9 221.1,390.4 221.6,389.2 222.1,390.2 222.6,389.3 223.2,389.5 223.7,390.5 224.2,390.2 224.7,389.9 225.2,390.1 225.8,390.3 226.3,389.3 226.8,389.8 227.3,389.5 227.8,389.9 228.3,389.5 228.9,390.1 229.4,389.7 229.9,389.4 230.4,389.6 230.9,389.9 231.4,390.2 232.0,389.6 232.5,389.5 233.0,389.8 233.5,390.1 234.0,389.4 234.6,388.4 235.1,389.8 235.6,389.5 236.1,389.5 236.6,391.0 237.1,389.6 237.7,390.0 238.2,389.0 238.7,389.8 239.2,390.1 239.7,389.8 240.2,389.6 240.8,389.9 241.3,389.7 241.8,390.3 242.3,389.8 242.8,389.2 243.3,388.6 243.9,389.3 244.4,389.5 244.9,389.0 245.4,389.1 245.9,388.8 246.5,389.1 247.0,389.7 247.5,389.5 248.0,389.5 248.5,389.4 249.0,389.5 249.6,390.0 250.1,390.7 250.6,389.9 251.1,390.6 251.6,389.5 252.1,389.6 252.7,390.4 253.2,389.2 253.7,389.1 254.2,389.5 254.7,388.7 255.2,388.6 255.8,390.2 256.3,389.0 256.8,389.3 257.3,389.3 257.8,389.0 258.4,389.9 258.9,389.8 259.4,389.9 259.9,389.9 260.4,389.6 260.9,390.3 261.5,390.0 262.0,389.2 262.5,389.5 263.0,389.3 263.5,390.5 264.0,389.9 264.6,389.8 265.1,389.5 265.6,389.8 266.1,389.0 266.6,389.5 267.2,389.4 267.7,389.4 268.2,389.1 268.7,389.7 269.2,388.8 269.7,389.2 270.3,389.3 270.8,389.4 271.3,389.1 271.8,388.9 272.3,388.9 272.8,389.2 273.4,389.0 273.9,389.4 274.4,388.8 274.9,389.4 275.4,390.5 275.9,388.7 276.5,389.4 277.0,390.1 277.5,389.6 278.0,389.9 278.5,388.4 279.1,389.2 279.6,390.3 280.1,389.2 280.6,389.7 281.1,388.5 281.6,390.0 282.2,390.7 282.7,389.5 283.2,389.7 283.7,389.7 284.2,390.6 284.7,389.3 285.3,388.6 285.8,390.5 286.3,388.9 286.8,389.8 287.3,388.3 287.9,389.3 288.4,389.6 288.9,389.0 289.4,389.3 289.9,389.8 290.4,389.2 291.0,389.8 291.5,390.5 292.0,388.5 292.5,389.7 293.0,389.9 293.5,389.4 294.1,390.4 294.6,390.3 295.1,389.8 295.6,389.9 296.1,389.6 296.6,389.0 297.2,389.8 297.7,389.3 298.2,389.3 298.7,390.2 299.2,389.5 299.8,390.1 300.3,389.1 300.8,389.4 301.3,389.6 301.8,390.3 302.3,389.6 302.9,390.0 303.4,389.3 303.9,389.7 304.4,390.1 304.9,389.2 305.4,389.3 306.0,390.0 306.5,389.1 307.0,389.8 307.5,389.8 308.0,389.6 308.6,390.1 309.1,389.9 309.6,389.8 310.1,388.9 310.6,389.0 311.1,389.9 311.7,388.9 312.2,389.8 312.7,389.6 313.2,389.3 313.7,389.6 314.2,388.6 314.8,389.7 315.3,390.4 315.8,389.2 316.3,390.0 316.8,390.0 317.4,391.3 317.9,389.3 318.4,389.5 318.9,389.5 319.4,389.4 319.9,389.0 320.5,389.9 321.0,389.4 321.5,390.3 322.0,390.1 322.5,389.4 323.0,389.7 323.6,390.6 324.1,389.8 324.6,390.1 325.1,390.4 325.6,389.8 326.1,390.2 326.7,390.8 327.2,390.6 327.7,389.1 328.2,390.8 328.7,389.9 329.3,389.7 329.8,389.7 330.3,390.7 330.8,390.2 331.3,390.0 331.8,389.7 332.4,390.4 332.9,390.7 333.4,389.7 333.9,389.6 334.4,390.0 334.9,390.5 335.5,390.1 336.0,390.3 336.5,390.0 337.0,391.0 337.5,390.4 338.1,390.5 338.6,391.0" fill="none" stroke="#22228a" stroke-width="0.85" stroke-opacity="1.0" stroke-linejoin="round"/>
<polyline points="203.5,364.0 204.0,364.2 204.5,365.0 205.1,363.7 205.6,366.6 206.1,364.4 206.6,363.6 207.1,363.8 207.6,362.6 208.2,366.2 208.7,366.7 209.2,363.9 209.7,363.6 210.2,360.9 210.7,363.3 211.3,365.7 211.8,363.0 212.3,365.7 212.8,366.7 213.3,360.1 213.8,363.8 214.4,363.1 214.9,363.4 215.4,361.4 215.9,363.8 216.4,362.3 217.0,366.0 217.5,366.5 218.0,362.0 218.5,361.9 219.0,363.5 219.5,363.9 220.1,364.0 220.6,365.4 221.1,361.8 221.6,363.2 222.1,363.5 222.6,363.7 223.2,362.6 223.7,363.3 224.2,362.5 224.7,365.3 225.2,362.2 225.8,359.1 226.3,361.7 226.8,358.3 227.3,353.8 227.8,350.9 228.3,346.7 228.9,344.6 229.4,333.2 229.9,343.7 230.4,349.6 230.9,354.7 231.4,364.8 232.0,371.8 232.5,372.0 233.0,378.2 233.5,381.4 234.0,384.2 234.6,384.2 235.1,384.8 235.6,384.5 236.1,385.2 236.6,385.0 237.1,384.8 237.7,385.7 238.2,386.2 238.7,386.2 239.2,384.6 239.7,384.9 240.2,384.1 240.8,384.1 241.3,385.3 241.8,384.4 242.3,386.3 242.8,383.0 243.3,384.0 243.9,385.3 244.4,386.1 244.9,384.8 245.4,386.8 245.9,385.8 246.5,384.5 247.0,385.1 247.5,385.6 248.0,384.3 248.5,386.1 249.0,385.0 249.6,385.7 250.1,386.0 250.6,384.8 251.1,386.1 251.6,383.6 252.1,385.8 252.7,383.5 253.2,386.3 253.7,384.8 254.2,386.4 254.7,386.5 255.2,385.2 255.8,384.8 256.3,386.5 256.8,384.4 257.3,386.1 257.8,385.3 258.4,385.1 258.9,384.9 259.4,387.0 259.9,384.1 260.4,385.0 260.9,385.9 261.5,386.4 262.0,387.0 262.5,386.7 263.0,385.1 263.5,385.9 264.0,386.6 264.6,386.1 265.1,384.3 265.6,385.9 266.1,386.1 266.6,384.5 267.2,385.3 267.7,385.6 268.2,386.2 268.7,387.0 269.2,386.7 269.7,386.1 270.3,385.9 270.8,385.4 271.3,385.3 271.8,385.6 272.3,385.6 272.8,386.7 273.4,387.7 273.9,386.3 274.4,386.7 274.9,386.4 275.4,386.1 275.9,387.0 276.5,386.8 277.0,386.0 277.5,385.8 278.0,386.5 278.5,385.5 279.1,386.2 279.6,386.8 280.1,386.0 280.6,384.4 281.1,386.6 281.6,385.0 282.2,384.9 282.7,384.8 283.2,386.8 283.7,384.4 284.2,386.0 284.7,386.3 285.3,386.3 285.8,385.6 286.3,386.1 286.8,386.3 287.3,385.1 287.9,386.8 288.4,387.1 288.9,385.5 289.4,385.6 289.9,385.3 290.4,387.1 291.0,385.4 291.5,385.9 292.0,384.8 292.5,387.3 293.0,386.1 293.5,386.6 294.1,387.7 294.6,386.9 295.1,385.4 295.6,386.8 296.1,387.0 296.6,385.7 297.2,385.6 297.7,385.6 298.2,387.1 298.7,386.5 299.2,385.6 299.8,387.0 300.3,387.1 300.8,385.8 301.3,385.2 301.8,387.5 302.3,388.7 302.9,387.7 303.4,387.4 303.9,386.7 304.4,386.1 304.9,386.7 305.4,387.2 306.0,386.5 306.5,387.4 307.0,386.7 307.5,387.2 308.0,384.5 308.6,386.0 309.1,387.4 309.6,387.5 310.1,387.1 310.6,388.1 311.1,387.3 311.7,387.3 312.2,386.0 312.7,387.1 313.2,387.4 313.7,387.9 314.2,387.7 314.8,386.8 315.3,387.0 315.8,385.9 316.3,387.3 316.8,386.0 317.4,386.6 317.9,386.8 318.4,388.5 318.9,387.9 319.4,386.3 319.9,385.8 320.5,386.7 321.0,386.3 321.5,387.2 322.0,387.2 322.5,387.4 323.0,386.1 323.6,386.7 324.1,387.1 324.6,387.2 325.1,386.5 325.6,386.7 326.1,387.6 326.7,385.6 327.2,386.8 327.7,387.0 328.2,385.8 328.7,386.2 329.3,387.1 329.8,386.6 330.3,387.9 330.8,387.6 331.3,388.9 331.8,386.1 332.4,388.6 332.9,386.5 333.4,387.8 333.9,387.9 334.4,387.4 334.9,387.0 335.5,386.8 336.0,385.9 336.5,387.1 337.0,386.7 337.5,387.9 338.1,386.9 338.6,387.4" fill="none" stroke="#ff4444" stroke-width="0.85" stroke-opacity="1.0" stroke-linejoin="round"/>
<polyline points="203.5,301.2 204.0,299.7 204.5,299.6 205.1,298.6 205.6,297.8 206.1,301.3 206.6,302.2 207.1,296.4 207.6,305.8 208.2,301.7 208.7,293.3 209.2,309.7 209.7,301.9 210.2,296.6 210.7,305.6 211.3,289.2 211.8,309.2 212.3,293.7 212.8,293.2 213.3,295.6 213.8,300.0 214.4,297.8 214.9,302.6 215.4,296.0 215.9,303.5 216.4,300.2 217.0,295.3 217.5,303.4 218.0,300.5 218.5,298.5 219.0,304.3 219.5,294.6 220.1,297.7 220.6,304.9 221.1,299.2 221.6,302.0 222.1,301.6 222.6,298.7 223.2,301.8 223.7,295.3 224.2,301.7 224.7,295.2 225.2,299.1 225.8,295.6 226.3,301.0 226.8,300.9 227.3,303.6 227.8,297.2 228.3,296.1 228.9,303.6 229.4,324.3 229.9,344.1 230.4,357.4 230.9,368.1 231.4,373.9 232.0,372.6 232.5,374.9 233.0,379.2 233.5,380.3 234.0,377.7 234.6,379.4 235.1,380.3 235.6,378.3 236.1,380.7 236.6,380.7 237.1,381.0 237.7,383.3 238.2,379.3 238.7,382.4 239.2,381.6 239.7,381.9 240.2,379.9 240.8,381.1 241.3,381.1 241.8,383.6 242.3,381.4 242.8,383.5 243.3,381.1 243.9,381.1 244.4,381.7 244.9,378.9 245.4,381.1 245.9,381.1 246.5,381.9 247.0,382.4 247.5,380.9 248.0,380.8 248.5,384.2 249.0,381.1 249.6,381.9 250.1,381.4 250.6,382.2 251.1,384.6 251.6,384.6 252.1,380.7 252.7,382.9 253.2,385.1 253.7,382.7 254.2,383.6 254.7,385.5 255.2,386.1 255.8,385.1 256.3,382.5 256.8,382.9 257.3,383.2 257.8,382.4 258.4,381.9 258.9,385.5 259.4,383.0 259.9,383.7 260.4,384.2 260.9,383.2 261.5,382.6 262.0,382.8 262.5,384.4 263.0,383.0 263.5,379.5 264.0,383.7 264.6,384.5 265.1,381.8 265.6,381.3 266.1,381.4 266.6,383.6 267.2,380.6 267.7,383.0 268.2,383.5 268.7,382.7 269.2,381.9 269.7,380.7 270.3,380.8 270.8,381.7 271.3,380.3 271.8,381.4 272.3,380.2 272.8,383.5 273.4,383.7 273.9,380.4 274.4,383.5 274.9,381.9 275.4,381.6 275.9,382.2 276.5,382.1 277.0,379.5 277.5,385.1 278.0,380.2 278.5,378.2 279.1,381.5 279.6,381.5 280.1,380.5 280.6,378.9 281.1,383.2 281.6,381.4 282.2,381.8 282.7,380.7 283.2,381.3 283.7,380.6 284.2,382.1 284.7,381.4 285.3,382.5 285.8,382.4 286.3,381.7 286.8,381.7 287.3,383.2 287.9,379.3 288.4,381.7 288.9,383.5 289.4,379.9 289.9,382.6 290.4,380.8 291.0,381.5 291.5,381.1 292.0,381.3 292.5,382.3 293.0,381.4 293.5,378.6 294.1,384.7 294.6,381.4 295.1,380.9 295.6,383.0 296.1,383.4 296.6,378.4 297.2,382.0 297.7,378.5 298.2,380.7 298.7,381.4 299.2,380.9 299.8,380.7 300.3,380.0 300.8,381.1 301.3,381.5 301.8,381.5 302.3,379.9 302.9,380.7 303.4,383.3 303.9,382.8 304.4,381.5 304.9,382.9 305.4,382.6 306.0,383.5 306.5,382.5 307.0,381.6 307.5,380.9 308.0,382.3 308.6,379.5 309.1,382.5 309.6,378.1 310.1,381.1 310.6,381.8 311.1,383.2 311.7,386.4 312.2,382.9 312.7,382.4 313.2,380.1 313.7,384.6 314.2,380.3 314.8,383.2 315.3,381.9 315.8,386.4 316.3,382.8 316.8,383.5 317.4,382.2 317.9,383.0 318.4,384.7 318.9,382.0 319.4,382.3 319.9,382.5 320.5,382.0 321.0,381.9 321.5,383.4 322.0,385.2 322.5,385.3 323.0,381.8 323.6,382.7 324.1,383.5 324.6,384.3 325.1,383.7 325.6,383.8 326.1,384.4 326.7,384.9 327.2,381.3 327.7,383.9 328.2,385.0 328.7,386.0 329.3,385.3 329.8,383.6 330.3,383.6 330.8,384.9 331.3,384.6 331.8,385.2 332.4,386.2 332.9,383.4 333.4,384.6 333.9,382.1 334.4,386.1 334.9,385.4 335.5,384.3 336.0,385.7 336.5,387.1 337.0,386.6 337.5,385.5 338.1,385.3 338.6,385.9" fill="none" stroke="#3344ee" stroke-width="0.85" stroke-opacity="1.0" stroke-linejoin="round"/>
<polyline points="203.5,374.5 204.0,374.5 204.5,375.1 205.1,375.4 205.6,375.7 206.1,374.9 206.6,374.5 207.1,375.3 207.6,374.9 208.2,375.7 208.7,376.8 209.2,376.4 209.7,374.6 210.2,374.9 210.7,373.7 211.3,375.3 211.8,374.4 212.3,373.9 212.8,374.3 213.3,375.9 213.8,375.4 214.4,375.1 214.9,376.2 215.4,374.7 215.9,374.2 216.4,375.7 217.0,373.2 217.5,375.5 218.0,375.4 218.5,375.4 219.0,375.9 219.5,374.7 220.1,375.1 220.6,373.4 221.1,374.5 221.6,374.5 222.1,375.3 222.6,376.5 223.2,375.1 223.7,375.3 224.2,372.4 224.7,372.5 225.2,369.6 225.8,369.7 226.3,368.6 226.8,368.3 227.3,366.3 227.8,363.6 228.3,361.2 228.9,361.3 229.4,357.6 229.9,352.2 230.4,353.9 230.9,351.9 231.4,353.4 232.0,356.9 232.5,355.4 233.0,359.4 233.5,361.4 234.0,360.4 234.6,359.9 235.1,364.7 235.6,362.5 236.1,363.5 236.6,364.1 237.1,364.4 237.7,365.4 238.2,363.7 238.7,365.3 239.2,366.0 239.7,365.3 240.2,366.1 240.8,367.0 241.3,367.5 241.8,366.1 242.3,368.0 242.8,369.3 243.3,370.7 243.9,370.7 244.4,372.1 244.9,371.3 245.4,371.7 245.9,374.8 246.5,373.1 247.0,372.5 247.5,372.8 248.0,373.8 248.5,371.1 249.0,373.0 249.6,373.4 250.1,373.0 250.6,371.6 251.1,370.2 251.6,369.8 252.1,370.6 252.7,372.0 253.2,371.1 253.7,371.2 254.2,370.1 254.7,371.8 255.2,369.3 255.8,368.7 256.3,369.6 256.8,368.9 257.3,370.6 257.8,371.2 258.4,370.2 258.9,368.1 259.4,368.3 259.9,370.1 260.4,368.1 260.9,369.9 261.5,367.8 262.0,369.0 262.5,370.1 263.0,368.6 263.5,370.5 264.0,370.7 264.6,371.3 265.1,369.3 265.6,369.7 266.1,369.7 266.6,370.1 267.2,367.9 267.7,370.1 268.2,370.5 268.7,368.2 269.2,368.0 269.7,369.2 270.3,371.7 270.8,370.4 271.3,368.9 271.8,369.6 272.3,367.9 272.8,371.3 273.4,368.9 273.9,370.4 274.4,368.2 274.9,369.8 275.4,368.5 275.9,370.5 276.5,371.4 277.0,371.0 277.5,370.4 278.0,370.9 278.5,368.4 279.1,368.2 279.6,369.4 280.1,371.0 280.6,369.9 281.1,370.6 281.6,368.1 282.2,369.4 282.7,369.2 283.2,370.3 283.7,372.2 284.2,370.7 284.7,371.1 285.3,369.4 285.8,369.7 286.3,370.8 286.8,370.3 287.3,368.0 287.9,371.0 288.4,370.9 288.9,370.1 289.4,370.7 289.9,370.4 290.4,369.3 291.0,367.9 291.5,371.9 292.0,369.9 292.5,369.8 293.0,369.9 293.5,370.1 294.1,370.2 294.6,368.7 295.1,370.4 295.6,370.0 296.1,369.8 296.6,369.7 297.2,370.0 297.7,368.6 298.2,369.8 298.7,369.6 299.2,369.8 299.8,370.9 300.3,370.7 300.8,371.0 301.3,369.5 301.8,370.6 302.3,371.0 302.9,369.4 303.4,369.1 303.9,371.8 304.4,367.7 304.9,369.7 305.4,369.8 306.0,368.4 306.5,369.6 307.0,370.4 307.5,367.1 308.0,370.9 308.6,369.8 309.1,368.7 309.6,370.9 310.1,369.8 310.6,369.2 311.1,366.8 311.7,370.7 312.2,369.7 312.7,368.8 313.2,369.5 313.7,371.0 314.2,369.1 314.8,369.5 315.3,369.1 315.8,368.2 316.3,368.4 316.8,369.1 317.4,369.2 317.9,370.8 318.4,369.7 318.9,369.3 319.4,370.0 319.9,369.4 320.5,370.5 321.0,367.7 321.5,367.0 322.0,369.9 322.5,369.0 323.0,369.7 323.6,368.0 324.1,369.0 324.6,369.0 325.1,368.9 325.6,367.9 326.1,368.8 326.7,366.2 327.2,367.4 327.7,365.4 328.2,365.3 328.7,363.4 329.3,363.7 329.8,361.2 330.3,362.7 330.8,359.9 331.3,362.6 331.8,363.6 332.4,365.3 332.9,365.7 333.4,371.0 333.9,369.9 334.4,373.7 334.9,372.5 335.5,377.5 336.0,376.8 336.5,377.7 337.0,374.6 337.5,377.8 338.1,376.7 338.6,377.6" fill="none" stroke="#ff44ff" stroke-width="0.85" stroke-opacity="1.0" stroke-linejoin="round"/>
<polyline points="203.5,386.4 204.0,385.2 204.5,384.4 205.1,385.1 205.6,384.2 206.1,385.2 206.6,384.9 207.1,385.3 207.6,384.7 208.2,383.4 208.7,384.6 209.2,384.8 209.7,385.4 210.2,385.6 210.7,383.8 211.3,385.8 211.8,385.7 212.3,385.0 212.8,385.3 213.3,383.4 213.8,386.9 214.4,384.6 214.9,384.4 215.4,385.8 215.9,385.5 216.4,384.6 217.0,383.6 217.5,385.7 218.0,386.2 218.5,384.2 219.0,383.7 219.5,385.2 220.1,386.7 220.6,383.8 221.1,385.2 221.6,384.2 222.1,385.2 222.6,385.6 223.2,385.8 223.7,384.4 224.2,384.5 224.7,387.4 225.2,386.2 225.8,383.2 226.3,384.1 226.8,384.1 227.3,382.1 227.8,380.6 228.3,377.5 228.9,374.8 229.4,371.6 229.9,368.7 230.4,364.9 230.9,364.6 231.4,361.9 232.0,359.8 232.5,355.5 233.0,355.1 233.5,353.9 234.0,352.1 234.6,352.1 235.1,350.7 235.6,351.5 236.1,349.1 236.6,349.6 237.1,351.8 237.7,352.3 238.2,349.8 238.7,350.2 239.2,351.1 239.7,353.3 240.2,353.7 240.8,349.7 241.3,348.7 241.8,348.5 242.3,352.0 242.8,347.6 243.3,350.2 243.9,348.4 244.4,348.1 244.9,350.1 245.4,349.5 245.9,352.0 246.5,349.7 247.0,351.1 247.5,347.0 248.0,347.6 248.5,346.0 249.0,346.9 249.6,348.6 250.1,346.8 250.6,348.0 251.1,346.1 251.6,346.6 252.1,348.8 252.7,347.0 253.2,346.8 253.7,347.3 254.2,345.1 254.7,343.5 255.2,347.2 255.8,347.1 256.3,350.5 256.8,346.5 257.3,347.0 257.8,350.1 258.4,345.5 258.9,344.8 259.4,347.2 259.9,346.4 260.4,347.4 260.9,344.2 261.5,348.3 262.0,346.0 262.5,341.7 263.0,345.1 263.5,344.3 264.0,345.3 264.6,347.2 265.1,345.0 265.6,344.1 266.1,346.6 266.6,344.0 267.2,342.2 267.7,342.5 268.2,347.3 268.7,346.1 269.2,347.2 269.7,342.1 270.3,342.9 270.8,342.6 271.3,345.5 271.8,346.0 272.3,343.5 272.8,343.4 273.4,345.2 273.9,343.3 274.4,342.3 274.9,343.1 275.4,345.4 275.9,347.4 276.5,343.9 277.0,343.1 277.5,343.8 278.0,344.1 278.5,344.6 279.1,341.9 279.6,343.3 280.1,342.9 280.6,345.0 281.1,344.3 281.6,342.7 282.2,344.9 282.7,345.4 283.2,343.6 283.7,340.6 284.2,342.5 284.7,340.1 285.3,343.1 285.8,343.4 286.3,345.4 286.8,343.8 287.3,339.9 287.9,342.0 288.4,341.2 288.9,341.2 289.4,342.6 289.9,342.9 290.4,342.2 291.0,341.2 291.5,341.5 292.0,341.4 292.5,342.0 293.0,343.8 293.5,342.8 294.1,344.0 294.6,340.3 295.1,346.2 295.6,342.5 296.1,337.5 296.6,342.7 297.2,344.2 297.7,342.0 298.2,339.5 298.7,342.2 299.2,340.8 299.8,341.7 300.3,342.6 300.8,335.9 301.3,341.8 301.8,342.9 302.3,342.8 302.9,341.1 303.4,341.1 303.9,340.4 304.4,341.6 304.9,344.6 305.4,340.8 306.0,342.4 306.5,342.4 307.0,344.6 307.5,342.9 308.0,343.2 308.6,341.8 309.1,344.5 309.6,341.7 310.1,341.5 310.6,343.9 311.1,342.9 311.7,343.4 312.2,340.0 312.7,346.5 313.2,342.4 313.7,344.9 314.2,342.5 314.8,340.0 315.3,342.9 315.8,341.4 316.3,343.3 316.8,337.9 317.4,339.9 317.9,339.5 318.4,344.2 318.9,343.7 319.4,339.5 319.9,342.0 320.5,342.1 321.0,340.9 321.5,344.0 322.0,340.1 322.5,341.5 323.0,340.6 323.6,342.8 324.1,340.5 324.6,342.9 325.1,339.8 325.6,339.5 326.1,339.9 326.7,340.7 327.2,340.5 327.7,347.0 328.2,340.2 328.7,342.4 329.3,341.7 329.8,345.2 330.3,351.3 330.8,353.9 331.3,355.5 331.8,356.9 332.4,362.7 332.9,365.6 333.4,364.9 333.9,369.8 334.4,365.8 334.9,368.5 335.5,369.8 336.0,367.3 336.5,366.3 337.0,370.5 337.5,366.5 338.1,369.0 338.6,366.6" fill="none" stroke="#33aa33" stroke-width="0.85" stroke-opacity="1.0" stroke-linejoin="round"/>
<polyline points="203.5,385.2 204.0,386.2 204.5,384.6 205.1,384.2 205.6,383.3 206.1,383.6 206.6,384.5 207.1,385.2 207.6,385.5 208.2,385.3 208.7,385.7 209.2,385.3 209.7,387.1 210.2,385.0 210.7,385.1 211.3,383.1 211.8,384.5 212.3,385.5 212.8,384.7 213.3,386.2 213.8,385.7 214.4,386.7 214.9,384.1 215.4,384.8 215.9,386.2 216.4,385.3 217.0,384.5 217.5,384.9 218.0,385.0 218.5,386.0 219.0,385.8 219.5,385.3 220.1,384.6 220.6,386.0 221.1,386.6 221.6,385.5 222.1,387.6 222.6,386.8 223.2,387.9 223.7,388.1 224.2,388.2 224.7,389.2 225.2,389.5 225.8,390.8 226.3,391.0 226.8,390.6 227.3,388.7 227.8,387.3 228.3,385.1 228.9,385.2 229.4,383.9 229.9,374.8 230.4,367.8 230.9,359.8 231.4,359.1 232.0,356.5 232.5,360.4 233.0,358.6 233.5,362.2 234.0,359.0 234.6,362.9 235.1,360.0 235.6,363.7 236.1,361.9 236.6,359.4 237.1,362.4 237.7,361.1 238.2,361.9 238.7,364.6 239.2,360.6 239.7,360.4 240.2,362.7 240.8,360.2 241.3,362.2 241.8,362.5 242.3,361.0 242.8,362.0 243.3,357.4 243.9,363.3 244.4,359.8 244.9,359.3 245.4,363.9 245.9,363.5 246.5,359.9 247.0,361.5 247.5,360.2 248.0,359.0 248.5,361.3 249.0,362.3 249.6,364.9 250.1,360.3 250.6,362.0 251.1,360.1 251.6,360.2 252.1,362.7 252.7,357.9 253.2,358.9 253.7,359.2 254.2,362.3 254.7,361.1 255.2,361.3 255.8,361.1 256.3,362.2 256.8,359.8 257.3,360.1 257.8,359.9 258.4,361.2 258.9,358.5 259.4,360.2 259.9,364.7 260.4,361.5 260.9,360.6 261.5,359.0 262.0,361.0 262.5,360.9 263.0,361.5 263.5,359.5 264.0,361.2 264.6,361.5 265.1,361.7 265.6,359.7 266.1,361.4 266.6,363.1 267.2,359.6 267.7,361.7 268.2,360.0 268.7,360.0 269.2,358.8 269.7,359.0 270.3,361.5 270.8,360.9 271.3,362.6 271.8,358.1 272.3,360.0 272.8,358.5 273.4,361.1 273.9,363.8 274.4,358.3 274.9,360.5 275.4,360.5 275.9,360.6 276.5,359.7 277.0,359.9 277.5,363.1 278.0,359.0 278.5,361.5 279.1,361.4 279.6,358.1 280.1,359.3 280.6,361.3 281.1,363.6 281.6,360.5 282.2,359.9 282.7,360.9 283.2,362.7 283.7,362.0 284.2,362.7 284.7,360.5 285.3,359.6 285.8,359.2 286.3,361.9 286.8,360.5 287.3,360.0 287.9,361.6 288.4,361.1 288.9,357.6 289.4,360.5 289.9,359.5 290.4,361.5 291.0,360.8 291.5,363.5 292.0,360.9 292.5,359.1 293.0,357.7 293.5,359.1 294.1,359.9 294.6,360.8 295.1,361.8 295.6,361.2 296.1,360.0 296.6,362.1 297.2,359.5 297.7,362.5 298.2,363.7 298.7,362.5 299.2,363.5 299.8,363.1 300.3,359.3 300.8,361.3 301.3,360.7 301.8,359.2 302.3,359.1 302.9,361.8 303.4,359.0 303.9,360.4 304.4,361.0 304.9,360.4 305.4,363.2 306.0,362.3 306.5,361.2 307.0,360.1 307.5,361.6 308.0,361.3 308.6,359.6 309.1,359.0 309.6,359.9 310.1,359.2 310.6,361.7 311.1,361.6 311.7,360.6 312.2,361.6 312.7,361.9 313.2,358.6 313.7,361.5 314.2,362.6 314.8,360.4 315.3,358.4 315.8,361.1 316.3,359.3 316.8,361.9 317.4,362.0 317.9,362.3 318.4,361.4 318.9,358.4 319.4,363.0 319.9,358.7 320.5,362.8 321.0,361.6 321.5,360.0 322.0,360.3 322.5,360.8 323.0,363.8 323.6,360.7 324.1,362.8 324.6,357.4 325.1,361.7 325.6,361.1 326.1,363.2 326.7,362.2 327.2,363.5 327.7,360.1 328.2,362.0 328.7,360.8 329.3,362.7 329.8,363.8 330.3,363.1 330.8,368.2 331.3,371.2 331.8,370.2 332.4,374.1 332.9,375.1 333.4,374.5 333.9,377.4 334.4,376.5 334.9,378.5 335.5,376.2 336.0,376.3 336.5,378.2 337.0,377.9 337.5,378.6 338.1,377.4 338.6,376.4" fill="none" stroke="#222" stroke-width="0.85" stroke-opacity="1.0" stroke-linejoin="round"/>
<text x="202.5" y="318" font-size="6.3" fill="#2a2a2a" text-anchor="start" textLength="23.9" lengthAdjust="spacingAndGlyphs" >substrate</text>
<text x="242" y="311.5" font-size="6.3" fill="#2a2a2a" text-anchor="start" textLength="30.5" lengthAdjust="spacingAndGlyphs" >Cr-rich layer</text>
<text x="283.5" y="324.2" font-size="6.3" fill="#2a2a2a" text-anchor="start" textLength="27.9" lengthAdjust="spacingAndGlyphs" >oxide layer</text>
<line x1="259.5" y1="323.4" x2="238.0" y2="337.7" stroke="#111" stroke-width="0.8"/><polygon points="236.8,338.5 238.3,335.9 239.8,338.1" fill="#111"/>
<line x1="199.0" y1="405.7" x2="204.0" y2="405.7" stroke="#777" stroke-width="0.7"/>
<text x="204.5" y="406.6" font-size="2.4" fill="#555">Cr Ka1</text>
<line x1="215.0" y1="405.7" x2="220.0" y2="405.7" stroke="#ff6666" stroke-width="0.7"/>
<text x="220.5" y="406.6" font-size="2.4" fill="#555">O Ka1</text>
<line x1="231.0" y1="405.7" x2="236.0" y2="405.7" stroke="#6666ff" stroke-width="0.7"/>
<text x="236.5" y="406.6" font-size="2.4" fill="#555">Fe Ka1</text>
<line x1="247.0" y1="405.7" x2="252.0" y2="405.7" stroke="#3caa3c" stroke-width="0.7"/>
<text x="252.5" y="406.6" font-size="2.4" fill="#555">Mn Ka1</text>
<line x1="263.0" y1="405.7" x2="268.0" y2="405.7" stroke="#1a237e" stroke-width="0.7"/>
<text x="268.5" y="406.6" font-size="2.4" fill="#555">Ni Ka1</text>
<line x1="279.0" y1="405.7" x2="284.0" y2="405.7" stroke="#ff66ff" stroke-width="0.7"/>
<text x="284.5" y="406.6" font-size="2.4" fill="#555">Si Ka1</text>
<line x1="198.0" y1="426.0" x2="198.0" y2="530.7" stroke="#505050" stroke-width="0.9"/>
<line x1="198.0" y1="530.7" x2="337.5" y2="530.7" stroke="#505050" stroke-width="0.9"/>
<line x1="196.4" y1="530.7" x2="198.0" y2="530.7" stroke="#555" stroke-width="0.6"/>
<text x="195.0" y="532.6" font-size="5.4" text-anchor="end" fill="#333">0</text>
<line x1="196.4" y1="515.9" x2="198.0" y2="515.9" stroke="#555" stroke-width="0.6"/>
<text x="195.0" y="517.8" font-size="5.4" text-anchor="end" fill="#333">200</text>
<line x1="196.4" y1="501.0" x2="198.0" y2="501.0" stroke="#555" stroke-width="0.6"/>
<text x="195.0" y="502.9" font-size="5.4" text-anchor="end" fill="#333">400</text>
<line x1="196.4" y1="486.2" x2="198.0" y2="486.2" stroke="#555" stroke-width="0.6"/>
<text x="195.0" y="488.1" font-size="5.4" text-anchor="end" fill="#333">600</text>
<line x1="196.4" y1="471.3" x2="198.0" y2="471.3" stroke="#555" stroke-width="0.6"/>
<text x="195.0" y="473.2" font-size="5.4" text-anchor="end" fill="#333">800</text>
<line x1="196.4" y1="456.5" x2="198.0" y2="456.5" stroke="#555" stroke-width="0.6"/>
<text x="195.0" y="458.4" font-size="5.4" text-anchor="end" fill="#333">1000</text>
<line x1="196.4" y1="441.6" x2="198.0" y2="441.6" stroke="#555" stroke-width="0.6"/>
<text x="195.0" y="443.5" font-size="5.4" text-anchor="end" fill="#333">1200</text>
<line x1="196.4" y1="426.8" x2="198.0" y2="426.8" stroke="#555" stroke-width="0.6"/>
<text x="195.0" y="428.7" font-size="5.4" text-anchor="end" fill="#333">1400</text>
<line x1="198.0" y1="530.7" x2="198.0" y2="532.3" stroke="#555" stroke-width="0.6"/>
<text x="198.0" y="538.2" font-size="5.4" text-anchor="middle" fill="#333">0</text>
<line x1="213.2" y1="530.7" x2="213.2" y2="532.3" stroke="#555" stroke-width="0.6"/>
<text x="213.2" y="538.2" font-size="5.4" text-anchor="middle" fill="#333">20</text>
<line x1="228.5" y1="530.7" x2="228.5" y2="532.3" stroke="#555" stroke-width="0.6"/>
<text x="228.5" y="538.2" font-size="5.4" text-anchor="middle" fill="#333">40</text>
<line x1="243.8" y1="530.7" x2="243.8" y2="532.3" stroke="#555" stroke-width="0.6"/>
<text x="243.8" y="538.2" font-size="5.4" text-anchor="middle" fill="#333">60</text>
<line x1="259.0" y1="530.7" x2="259.0" y2="532.3" stroke="#555" stroke-width="0.6"/>
<text x="259.0" y="538.2" font-size="5.4" text-anchor="middle" fill="#333">80</text>
<line x1="274.2" y1="530.7" x2="274.2" y2="532.3" stroke="#555" stroke-width="0.6"/>
<text x="274.2" y="538.2" font-size="5.4" text-anchor="middle" fill="#333">100</text>
<line x1="289.5" y1="530.7" x2="289.5" y2="532.3" stroke="#555" stroke-width="0.6"/>
<text x="289.5" y="538.2" font-size="5.4" text-anchor="middle" fill="#333">120</text>
<line x1="304.8" y1="530.7" x2="304.8" y2="532.3" stroke="#555" stroke-width="0.6"/>
<text x="304.8" y="538.2" font-size="5.4" text-anchor="middle" fill="#333">140</text>
<line x1="320.0" y1="530.7" x2="320.0" y2="532.3" stroke="#555" stroke-width="0.6"/>
<text x="320.0" y="538.2" font-size="5.4" text-anchor="middle" fill="#333">160</text>
<line x1="335.2" y1="530.7" x2="335.2" y2="532.3" stroke="#555" stroke-width="0.6"/>
<text x="335.2" y="538.2" font-size="5.4" text-anchor="middle" fill="#333">180</text>
<line x1="198.0" y1="530.7" x2="198.0" y2="531.7" stroke="#666" stroke-width="0.4"/>
<line x1="201.8" y1="530.7" x2="201.8" y2="531.7" stroke="#666" stroke-width="0.4"/>
<line x1="205.6" y1="530.7" x2="205.6" y2="531.7" stroke="#666" stroke-width="0.4"/>
<line x1="209.4" y1="530.7" x2="209.4" y2="531.7" stroke="#666" stroke-width="0.4"/>
<line x1="213.2" y1="530.7" x2="213.2" y2="531.7" stroke="#666" stroke-width="0.4"/>
<line x1="217.1" y1="530.7" x2="217.1" y2="531.7" stroke="#666" stroke-width="0.4"/>
<line x1="220.9" y1="530.7" x2="220.9" y2="531.7" stroke="#666" stroke-width="0.4"/>
<line x1="224.7" y1="530.7" x2="224.7" y2="531.7" stroke="#666" stroke-width="0.4"/>
<line x1="228.5" y1="530.7" x2="228.5" y2="531.7" stroke="#666" stroke-width="0.4"/>
<line x1="232.3" y1="530.7" x2="232.3" y2="531.7" stroke="#666" stroke-width="0.4"/>
<line x1="236.1" y1="530.7" x2="236.1" y2="531.7" stroke="#666" stroke-width="0.4"/>
<line x1="239.9" y1="530.7" x2="239.9" y2="531.7" stroke="#666" stroke-width="0.4"/>
<line x1="243.8" y1="530.7" x2="243.8" y2="531.7" stroke="#666" stroke-width="0.4"/>
<line x1="247.6" y1="530.7" x2="247.6" y2="531.7" stroke="#666" stroke-width="0.4"/>
<line x1="251.4" y1="530.7" x2="251.4" y2="531.7" stroke="#666" stroke-width="0.4"/>
<line x1="255.2" y1="530.7" x2="255.2" y2="531.7" stroke="#666" stroke-width="0.4"/>
<line x1="259.0" y1="530.7" x2="259.0" y2="531.7" stroke="#666" stroke-width="0.4"/>
<line x1="262.8" y1="530.7" x2="262.8" y2="531.7" stroke="#666" stroke-width="0.4"/>
<line x1="266.6" y1="530.7" x2="266.6" y2="531.7" stroke="#666" stroke-width="0.4"/>
<line x1="270.4" y1="530.7" x2="270.4" y2="531.7" stroke="#666" stroke-width="0.4"/>
<line x1="274.2" y1="530.7" x2="274.2" y2="531.7" stroke="#666" stroke-width="0.4"/>
<line x1="278.1" y1="530.7" x2="278.1" y2="531.7" stroke="#666" stroke-width="0.4"/>
<line x1="281.9" y1="530.7" x2="281.9" y2="531.7" stroke="#666" stroke-width="0.4"/>
<line x1="285.7" y1="530.7" x2="285.7" y2="531.7" stroke="#666" stroke-width="0.4"/>
<line x1="289.5" y1="530.7" x2="289.5" y2="531.7" stroke="#666" stroke-width="0.4"/>
<line x1="293.3" y1="530.7" x2="293.3" y2="531.7" stroke="#666" stroke-width="0.4"/>
<line x1="297.1" y1="530.7" x2="297.1" y2="531.7" stroke="#666" stroke-width="0.4"/>
<line x1="300.9" y1="530.7" x2="300.9" y2="531.7" stroke="#666" stroke-width="0.4"/>
<line x1="304.8" y1="530.7" x2="304.8" y2="531.7" stroke="#666" stroke-width="0.4"/>
<line x1="308.6" y1="530.7" x2="308.6" y2="531.7" stroke="#666" stroke-width="0.4"/>
<line x1="312.4" y1="530.7" x2="312.4" y2="531.7" stroke="#666" stroke-width="0.4"/>
<line x1="316.2" y1="530.7" x2="316.2" y2="531.7" stroke="#666" stroke-width="0.4"/>
<line x1="320.0" y1="530.7" x2="320.0" y2="531.7" stroke="#666" stroke-width="0.4"/>
<line x1="323.8" y1="530.7" x2="323.8" y2="531.7" stroke="#666" stroke-width="0.4"/>
<line x1="327.6" y1="530.7" x2="327.6" y2="531.7" stroke="#666" stroke-width="0.4"/>
<line x1="331.4" y1="530.7" x2="331.4" y2="531.7" stroke="#666" stroke-width="0.4"/>
<line x1="335.2" y1="530.7" x2="335.2" y2="531.7" stroke="#666" stroke-width="0.4"/>
<text transform="translate(183.8,480) rotate(-90)" font-size="5.6" fill="#333" text-anchor="middle">cps</text>
<text x="332.8" y="545" font-size="4.6" fill="#444" text-anchor="middle" >μm</text>
<rect x="218.8" y="463" width="1.3" height="48" fill="#444"/>
<rect x="225.8" y="463" width="1.3" height="48" fill="#444"/>
<polyline points="198.0,485.3 198.5,484.2 199.0,486.0 199.5,488.4 200.0,485.7 200.5,480.5 201.0,480.5 201.5,483.3 202.0,483.2 202.5,483.9 203.0,486.5 203.5,483.0 203.9,478.8 204.4,481.6 204.9,482.8 205.4,482.6 205.9,484.2 206.4,483.0 206.9,480.9 207.4,481.3 207.9,482.5 208.4,483.2 208.9,482.8 209.4,481.2 209.9,479.2 210.4,480.3 210.9,485.6 211.4,487.9 211.9,483.5 212.4,481.8 212.9,486.5 213.4,489.7 213.9,486.8 214.4,483.6 214.9,485.0 215.3,485.1 215.8,481.9 216.3,480.3 216.8,482.0 217.3,483.9 217.8,482.3 218.3,478.5 218.8,478.4 219.3,482.7 219.8,485.8 220.3,483.4 220.8,478.8 221.3,475.9 221.8,471.9 222.3,469.2 222.8,467.4 223.3,467.1 223.8,477.2 224.3,488.1 224.8,494.3 225.3,502.2 225.8,511.5 226.3,516.2 226.7,517.9 227.2,519.1 227.7,521.0 228.2,521.3 228.7,519.7 229.2,518.5 229.7,518.9 230.2,519.8 230.7,520.5 231.2,521.5 231.7,521.8 232.2,521.6 232.7,520.9 233.2,519.8 233.7,520.2 234.2,521.0 234.7,520.7 235.2,521.5 235.7,522.5 236.2,522.6 236.7,522.7 237.2,521.8 237.7,521.1 238.1,521.1 238.6,521.0 239.1,521.3 239.6,522.1 240.1,522.7 240.6,522.4 241.1,522.4 241.6,522.2 242.1,521.6 242.6,522.0 243.1,523.6 243.6,523.8 244.1,522.2 244.6,520.9 245.1,520.4 245.6,519.8 246.1,519.5 246.6,520.3 247.1,521.7 247.6,522.9 248.1,523.0 248.6,522.2 249.0,521.3 249.5,521.1 250.0,521.4 250.5,521.3 251.0,520.8 251.5,520.8 252.0,520.9 252.5,521.2 253.0,522.3 253.5,522.4 254.0,521.2 254.5,520.9 255.0,521.6 255.5,520.8 256.0,519.8 256.5,521.2 257.0,521.9 257.5,521.8 258.0,522.3 258.5,521.0 259.0,519.2 259.5,519.4 260.0,520.1 260.4,520.5 260.9,520.6 261.4,520.5 261.9,521.3 262.4,521.8 262.9,521.1 263.4,520.4 263.9,520.4 264.4,521.6 264.9,522.5 265.4,520.1 265.9,518.0 266.4,519.2 266.9,521.5 267.4,522.2 267.9,522.0 268.4,521.9 268.9,521.4 269.4,521.1 269.9,520.1 270.4,520.6 270.9,522.6 271.4,522.4 271.8,522.6 272.3,523.4 272.8,522.8 273.3,521.4 273.8,521.3 274.3,521.9 274.8,520.2 275.3,518.7 275.8,519.6 276.3,520.5 276.8,521.6 277.3,522.2 277.8,521.2 278.3,520.3 278.8,519.1 279.3,518.1 279.8,519.1 280.3,519.7 280.8,520.1 281.3,522.3 281.8,523.1 282.3,522.4 282.8,521.6 283.2,520.9 283.7,520.2 284.2,518.8 284.7,518.4 285.2,519.4 285.7,519.8 286.2,518.6 286.7,518.2 287.2,518.8 287.7,517.5 288.2,516.2 288.7,515.7 289.2,514.5 289.7,515.3 290.2,517.2 290.7,517.8 291.2,517.4 291.7,517.1 292.2,516.9 292.7,515.9 293.2,515.1 293.7,515.5 294.2,517.4 294.6,517.9 295.1,516.2 295.6,515.9 296.1,516.0 296.6,516.3 297.1,516.1 297.6,515.8 298.1,516.6 298.6,518.2 299.1,519.7 299.6,519.7 300.1,519.9 300.6,520.6 301.1,520.5 301.6,519.8 302.1,520.4 302.6,522.5 303.1,523.0 303.6,522.2 304.1,521.9 304.6,522.3 305.1,522.9 305.6,523.1 306.0,522.7 306.5,522.9 307.0,524.0 307.5,525.0 308.0,525.6 308.5,524.9 309.0,524.7 309.5,525.2 310.0,525.9 310.5,527.7 311.0,528.6 311.5,528.1 312.0,527.3 312.5,526.9 313.0,526.9 313.5,526.8 314.0,526.8 314.5,527.7 315.0,528.6 315.5,528.0 316.0,527.5 316.5,528.2 316.9,527.4 317.4,525.5 317.9,525.5 318.4,526.0 318.9,525.0 319.4,523.4 319.9,523.1 320.4,523.5 320.9,522.8 321.4,521.6 321.9,520.4 322.4,520.0 322.9,521.6 323.4,522.1 323.9,519.7 324.4,518.0 324.9,518.6 325.4,518.5 325.9,518.3 326.4,519.7 326.9,520.2 327.4,520.4 327.9,520.5 328.3,519.4 328.8,519.2 329.3,520.8 329.8,522.1 330.3,521.9 330.8,520.8 331.3,520.3 331.8,520.7 332.3,521.4 332.8,520.7 333.3,519.5 333.8,519.6 334.3,519.5 334.8,519.6 335.3,521.3 335.8,522.8 336.3,522.6 336.8,523.5" fill="none" stroke="#ff5050" stroke-width="0.85" stroke-opacity="1.0" stroke-linejoin="round"/>
<polyline points="198.0,445.4 198.5,452.3 199.0,456.4 199.5,455.7 200.0,450.2 200.5,443.7 201.0,443.4 201.5,445.8 202.0,445.4 202.5,445.1 203.0,446.5 203.5,446.5 203.9,449.8 204.4,454.4 204.9,450.3 205.4,445.5 205.9,447.6 206.4,450.0 206.9,450.6 207.4,448.6 207.9,445.7 208.4,448.4 208.9,455.3 209.4,458.6 209.9,456.3 210.4,456.4 210.9,454.1 211.4,446.5 211.9,446.6 212.4,450.2 212.9,446.5 213.4,445.4 213.9,447.4 214.4,448.2 214.9,452.3 215.3,454.8 215.8,454.5 216.3,451.1 216.8,448.1 217.3,451.4 217.8,453.8 218.3,451.4 218.8,448.6 219.3,446.8 219.8,446.5 220.3,450.1 220.8,452.9 221.3,451.1 221.8,450.2 222.3,450.8 222.8,447.0 223.3,469.2 223.8,495.6 224.3,517.4 224.8,518.6 225.3,520.2 225.8,521.6 226.3,521.3 226.7,519.9 227.2,519.5 227.7,520.1 228.2,519.7 228.7,518.6 229.2,519.4 229.7,521.1 230.2,520.7 230.7,519.5 231.2,519.2 231.7,520.0 232.2,520.8 232.7,521.4 233.2,521.7 233.7,520.8 234.2,519.8 234.7,519.7 235.2,520.4 235.7,520.7 236.2,521.0 236.7,520.3 237.2,519.0 237.7,518.8 238.1,519.2 238.6,519.7 239.1,520.1 239.6,520.6 240.1,520.3 240.6,519.0 241.1,518.1 241.6,518.2 242.1,518.3 242.6,517.7 243.1,517.7 243.6,517.6 244.1,517.6 244.6,518.5 245.1,518.9 245.6,518.8 246.1,518.8 246.6,518.0 247.1,516.9 247.6,517.5 248.1,519.5 248.6,520.5 249.0,519.7 249.5,518.5 250.0,518.0 250.5,519.0 251.0,519.2 251.5,518.9 252.0,519.6 252.5,519.0 253.0,517.1 253.5,516.9 254.0,518.2 254.5,519.8 255.0,520.6 255.5,520.0 256.0,519.8 256.5,520.3 257.0,520.8 257.5,520.9 258.0,520.7 258.5,519.8 259.0,519.1 259.5,520.6 260.0,522.8 260.4,523.4 260.9,523.3 261.4,522.1 261.9,520.5 262.4,520.5 262.9,521.1 263.4,521.2 263.9,522.2 264.4,523.3 264.9,523.3 265.4,521.7 265.9,520.5 266.4,520.9 266.9,519.6 267.4,519.0 267.9,520.4 268.4,521.3 268.9,521.5 269.4,520.8 269.9,520.2 270.4,520.0 270.9,519.3 271.4,519.0 271.8,519.8 272.3,520.4 272.8,520.6 273.3,521.1 273.8,521.6 274.3,520.9 274.8,520.9 275.3,520.5 275.8,519.6 276.3,521.2 276.8,522.0 277.3,521.9 277.8,523.0 278.3,523.3 278.8,523.2 279.3,522.6 279.8,521.3 280.3,520.0 280.8,519.2 281.3,518.9 281.8,519.0 282.3,519.9 282.8,520.4 283.2,520.2 283.7,521.0 284.2,520.9 284.7,519.2 285.2,519.2 285.7,519.8 286.2,519.5 286.7,520.2 287.2,521.7 287.7,522.1 288.2,521.9 288.7,521.6 289.2,520.7 289.7,519.5 290.2,520.0 290.7,521.4 291.2,521.8 291.7,522.0 292.2,521.1 292.7,520.2 293.2,521.3 293.7,522.8 294.2,521.9 294.6,520.4 295.1,519.8 295.6,520.3 296.1,521.4 296.6,521.4 297.1,521.3 297.6,520.9 298.1,520.2 298.6,520.4 299.1,521.2 299.6,521.7 300.1,522.8 300.6,522.7 301.1,521.2 301.6,521.7 302.1,523.1 302.6,522.7 303.1,520.8 303.6,519.1 304.1,519.0 304.6,520.7 305.1,522.5 305.6,521.9 306.0,520.6 306.5,520.3 307.0,520.7 307.5,520.3 308.0,518.9 308.5,518.9 309.0,521.0 309.5,521.2 310.0,519.9 310.5,520.1 311.0,519.3 311.5,519.2 312.0,521.0 312.5,521.5 313.0,521.1 313.5,520.7 314.0,519.7 314.5,518.8 315.0,519.7 315.5,520.3 316.0,520.2 316.5,521.1 316.9,520.6 317.4,519.6 317.9,521.1 318.4,522.0 318.9,521.9 319.4,523.2 319.9,523.2 320.4,521.5 320.9,521.7 321.4,522.3 321.9,522.3 322.4,522.8 322.9,522.6 323.4,520.4 323.9,518.5 324.4,519.0 324.9,520.9 325.4,522.3 325.9,522.5 326.4,522.0 326.9,521.2 327.4,521.1 327.9,521.4 328.3,521.6 328.8,522.6 329.3,522.7 329.8,522.1 330.3,522.9 330.8,523.2 331.3,522.5 331.8,522.0 332.3,520.9 332.8,520.1 333.3,520.5 333.8,521.0 334.3,521.2 334.8,522.1 335.3,523.5 335.8,523.6 336.3,524.2 336.8,524.8" fill="none" stroke="#4a8ee8" stroke-width="0.85" stroke-opacity="1.0" stroke-linejoin="round"/>
<polyline points="198.0,521.5 198.5,522.0 199.0,520.7 199.5,520.0 200.0,524.6 200.5,521.6 201.0,518.9 201.5,520.3 202.0,519.6 202.5,521.4 203.0,523.4 203.5,523.0 203.9,520.6 204.4,520.2 204.9,522.5 205.4,521.9 205.9,521.1 206.4,523.8 206.9,522.0 207.4,519.3 207.9,518.6 208.4,521.6 208.9,519.1 209.4,522.2 209.9,522.6 210.4,524.5 210.9,520.2 211.4,522.0 211.9,518.4 212.4,521.1 212.9,521.2 213.4,523.9 213.9,519.5 214.4,522.0 214.9,521.7 215.3,524.4 215.8,520.3 216.3,520.2 216.8,522.3 217.3,521.4 217.8,521.0 218.3,520.2 218.8,521.4 219.3,519.2 219.8,521.8 220.3,522.3 220.8,522.1 221.3,524.9 221.8,522.6 222.3,520.2 222.8,517.8 223.3,515.5 223.8,509.1 224.3,509.7 224.8,501.1 225.3,494.2 225.8,491.3 226.3,494.3 226.7,488.7 227.2,485.0 227.7,490.5 228.2,486.2 228.7,492.2 229.2,493.3 229.7,485.9 230.2,487.5 230.7,487.0 231.2,489.2 231.7,488.3 232.2,485.1 232.7,482.4 233.2,488.0 233.7,492.0 234.2,483.6 234.7,485.4 235.2,485.2 235.7,486.6 236.2,480.3 236.7,486.8 237.2,485.5 237.7,492.3 238.1,488.5 238.6,488.8 239.1,486.8 239.6,485.7 240.1,488.8 240.6,481.6 241.1,489.6 241.6,487.8 242.1,485.8 242.6,490.0 243.1,484.7 243.6,484.5 244.1,487.2 244.6,480.7 245.1,486.1 245.6,485.5 246.1,489.1 246.6,491.2 247.1,488.1 247.6,487.2 248.1,487.6 248.6,484.1 249.0,493.2 249.5,489.6 250.0,491.6 250.5,482.4 251.0,487.9 251.5,487.8 252.0,489.5 252.5,483.7 253.0,487.5 253.5,485.7 254.0,492.2 254.5,482.9 255.0,485.1 255.5,484.7 256.0,482.7 256.5,486.9 257.0,486.8 257.5,484.2 258.0,485.1 258.5,487.0 259.0,486.2 259.5,487.7 260.0,484.1 260.4,483.4 260.9,486.1 261.4,480.6 261.9,490.5 262.4,486.6 262.9,480.9 263.4,487.1 263.9,490.5 264.4,481.7 264.9,484.1 265.4,489.2 265.9,483.3 266.4,488.6 266.9,489.5 267.4,485.9 267.9,486.8 268.4,488.6 268.9,486.4 269.4,488.2 269.9,485.1 270.4,485.3 270.9,482.9 271.4,486.4 271.8,489.0 272.3,488.9 272.8,485.7 273.3,480.3 273.8,482.3 274.3,486.7 274.8,481.8 275.3,487.8 275.8,481.2 276.3,485.1 276.8,481.5 277.3,481.7 277.8,484.3 278.3,482.2 278.8,486.3 279.3,483.1 279.8,479.4 280.3,470.0 280.8,480.1 281.3,481.8 281.8,485.0 282.3,478.4 282.8,486.6 283.2,483.8 283.7,480.0 284.2,484.6 284.7,476.0 285.2,477.1 285.7,482.1 286.2,482.0 286.7,484.3 287.2,484.5 287.7,478.7 288.2,478.1 288.7,478.9 289.2,479.1 289.7,481.6 290.2,478.6 290.7,484.3 291.2,479.6 291.7,475.0 292.2,475.4 292.7,480.9 293.2,480.4 293.7,475.0 294.2,473.6 294.6,483.9 295.1,480.5 295.6,478.3 296.1,475.2 296.6,481.6 297.1,476.8 297.6,479.9 298.1,471.5 298.6,477.7 299.1,479.5 299.6,480.2 300.1,475.8 300.6,477.1 301.1,482.7 301.6,478.6 302.1,483.6 302.6,481.8 303.1,483.5 303.6,483.7 304.1,481.7 304.6,482.7 305.1,478.3 305.6,478.1 306.0,481.9 306.5,485.2 307.0,479.9 307.5,489.1 308.0,489.4 308.5,482.0 309.0,482.8 309.5,482.5 310.0,486.6 310.5,490.3 311.0,488.5 311.5,485.3 312.0,489.1 312.5,488.8 313.0,490.8 313.5,490.0 314.0,484.1 314.5,485.2 315.0,489.8 315.5,489.5 316.0,488.0 316.5,484.6 316.9,489.5 317.4,486.4 317.9,492.1 318.4,489.4 318.9,484.3 319.4,482.8 319.9,488.7 320.4,487.5 320.9,482.7 321.4,486.1 321.9,486.4 322.4,483.1 322.9,484.0 323.4,481.1 323.9,481.9 324.4,485.9 324.9,484.4 325.4,484.1 325.9,487.8 326.4,486.6 326.9,480.6 327.4,488.2 327.9,480.3 328.3,482.4 328.8,483.7 329.3,481.7 329.8,481.9 330.3,479.7 330.8,484.5 331.3,484.0 331.8,484.0 332.3,477.6 332.8,480.5 333.3,487.4 333.8,487.5 334.3,490.5 334.8,490.4 335.3,491.8 335.8,488.6 336.3,501.5 336.8,496.6" fill="none" stroke="#33aa66" stroke-width="0.85" stroke-opacity="1.0" stroke-linejoin="round"/>
<polyline points="198.0,522.2 198.5,523.2 199.0,522.7 199.5,523.0 200.0,522.5 200.5,521.6 201.0,524.0 201.5,521.3 202.0,522.9 202.5,521.2 203.0,522.2 203.5,521.4 203.9,522.0 204.4,521.6 204.9,522.5 205.4,523.3 205.9,521.9 206.4,521.9 206.9,520.6 207.4,524.4 207.9,522.8 208.4,521.6 208.9,523.7 209.4,522.8 209.9,520.6 210.4,521.2 210.9,523.4 211.4,521.2 211.9,521.5 212.4,521.8 212.9,522.2 213.4,522.3 213.9,523.4 214.4,523.0 214.9,521.9 215.3,522.4 215.8,520.8 216.3,522.9 216.8,524.8 217.3,522.9 217.8,522.3 218.3,522.2 218.8,522.5 219.3,523.3 219.8,521.2 220.3,523.2 220.8,521.9 221.3,522.8 221.8,523.7 222.3,521.2 222.8,521.8 223.3,515.6 223.8,509.2 224.3,507.6 224.8,503.7 225.3,503.0 225.8,501.6 226.3,494.8 226.7,499.2 227.2,499.1 227.7,500.8 228.2,500.1 228.7,497.5 229.2,497.6 229.7,498.7 230.2,499.9 230.7,497.3 231.2,501.8 231.7,499.2 232.2,499.0 232.7,500.1 233.2,498.2 233.7,499.7 234.2,500.0 234.7,495.1 235.2,497.0 235.7,496.2 236.2,498.3 236.7,496.6 237.2,496.9 237.7,496.1 238.1,493.9 238.6,498.7 239.1,497.8 239.6,498.3 240.1,504.8 240.6,500.8 241.1,498.1 241.6,497.0 242.1,499.2 242.6,496.0 243.1,495.7 243.6,498.8 244.1,495.6 244.6,495.3 245.1,498.0 245.6,500.9 246.1,496.7 246.6,500.0 247.1,500.7 247.6,500.1 248.1,501.5 248.6,498.9 249.0,499.7 249.5,499.3 250.0,500.7 250.5,503.4 251.0,502.6 251.5,500.9 252.0,502.8 252.5,496.7 253.0,502.0 253.5,502.3 254.0,498.9 254.5,499.3 255.0,500.4 255.5,500.5 256.0,499.0 256.5,498.0 257.0,497.8 257.5,499.5 258.0,497.8 258.5,496.8 259.0,496.6 259.5,503.8 260.0,499.7 260.4,499.5 260.9,498.5 261.4,497.7 261.9,496.3 262.4,496.9 262.9,498.3 263.4,498.0 263.9,494.7 264.4,499.2 264.9,497.5 265.4,495.1 265.9,497.4 266.4,501.8 266.9,497.3 267.4,498.8 267.9,498.2 268.4,496.1 268.9,497.2 269.4,498.5 269.9,496.4 270.4,497.2 270.9,497.8 271.4,497.5 271.8,497.6 272.3,498.7 272.8,498.9 273.3,498.0 273.8,499.8 274.3,500.4 274.8,495.5 275.3,498.3 275.8,497.7 276.3,497.9 276.8,497.5 277.3,497.4 277.8,497.2 278.3,498.7 278.8,495.3 279.3,498.3 279.8,494.9 280.3,500.4 280.8,498.7 281.3,494.7 281.8,496.7 282.3,497.6 282.8,495.5 283.2,498.2 283.7,495.9 284.2,500.2 284.7,496.7 285.2,496.2 285.7,492.4 286.2,490.2 286.7,492.3 287.2,485.7 287.7,491.8 288.2,496.2 288.7,498.2 289.2,491.9 289.7,496.0 290.2,497.1 290.7,497.2 291.2,497.9 291.7,493.2 292.2,496.0 292.7,492.3 293.2,496.2 293.7,500.3 294.2,494.2 294.6,496.5 295.1,496.3 295.6,492.8 296.1,496.3 296.6,493.6 297.1,495.8 297.6,497.3 298.1,494.8 298.6,497.0 299.1,493.4 299.6,493.9 300.1,495.7 300.6,494.6 301.1,494.8 301.6,496.8 302.1,495.0 302.6,497.5 303.1,496.3 303.6,499.6 304.1,498.0 304.6,497.9 305.1,500.5 305.6,500.2 306.0,500.7 306.5,498.8 307.0,501.8 307.5,500.2 308.0,498.6 308.5,501.1 309.0,504.6 309.5,501.5 310.0,499.9 310.5,502.2 311.0,499.8 311.5,500.6 312.0,501.0 312.5,502.2 313.0,502.6 313.5,502.2 314.0,501.6 314.5,500.8 315.0,501.0 315.5,502.3 316.0,501.6 316.5,501.0 316.9,504.4 317.4,502.8 317.9,502.8 318.4,501.6 318.9,501.7 319.4,501.5 319.9,502.5 320.4,499.7 320.9,500.3 321.4,503.6 321.9,500.6 322.4,502.5 322.9,497.3 323.4,501.1 323.9,500.9 324.4,500.0 324.9,500.4 325.4,500.0 325.9,497.0 326.4,499.3 326.9,498.1 327.4,497.5 327.9,501.3 328.3,496.5 328.8,498.4 329.3,498.0 329.8,501.3 330.3,498.3 330.8,499.1 331.3,500.9 331.8,495.9 332.3,499.0 332.8,500.5 333.3,499.8 333.8,498.7 334.3,499.3 334.8,501.3 335.3,501.2 335.8,501.8 336.3,507.2 336.8,507.0" fill="none" stroke="#555" stroke-width="0.85" stroke-opacity="1.0" stroke-linejoin="round"/>
<polyline points="198.0,524.5 198.5,524.0 199.0,523.3 199.5,523.7 200.0,524.5 200.5,524.2 201.0,523.5 201.5,524.3 202.0,524.1 202.5,523.9 203.0,524.9 203.5,523.6 203.9,523.8 204.4,523.7 204.9,524.5 205.4,524.4 205.9,524.3 206.4,523.9 206.9,524.0 207.4,523.9 207.9,523.1 208.4,523.4 208.9,524.4 209.4,524.3 209.9,523.2 210.4,524.2 210.9,523.3 211.4,523.2 211.9,524.3 212.4,524.1 212.9,524.0 213.4,524.4 213.9,524.5 214.4,524.2 214.9,523.6 215.3,524.2 215.8,524.1 216.3,524.2 216.8,524.7 217.3,523.3 217.8,525.2 218.3,524.3 218.8,523.7 219.3,524.7 219.8,523.7 220.3,523.4 220.8,524.4 221.3,523.9 221.8,524.6 222.3,523.8 222.8,516.3 223.3,506.1 223.8,494.2 224.3,483.9 224.8,474.0 225.3,481.1 225.8,489.5 226.3,493.3 226.7,493.3 227.2,495.9 227.7,493.0 228.2,494.8 228.7,494.6 229.2,496.0 229.7,494.8 230.2,494.5 230.7,495.1 231.2,494.6 231.7,497.1 232.2,493.0 232.7,495.8 233.2,497.0 233.7,495.5 234.2,495.3 234.7,493.7 235.2,495.3 235.7,493.8 236.2,495.2 236.7,491.5 237.2,493.4 237.7,491.7 238.1,495.0 238.6,493.0 239.1,494.9 239.6,493.0 240.1,492.8 240.6,495.4 241.1,494.8 241.6,494.8 242.1,495.1 242.6,494.2 243.1,494.4 243.6,494.9 244.1,493.1 244.6,492.5 245.1,494.7 245.6,493.8 246.1,493.2 246.6,493.5 247.1,494.0 247.6,492.2 248.1,492.2 248.6,492.4 249.0,493.4 249.5,490.9 250.0,491.2 250.5,493.7 251.0,493.3 251.5,491.8 252.0,494.1 252.5,492.7 253.0,493.1 253.5,494.0 254.0,493.5 254.5,495.0 255.0,493.8 255.5,495.5 256.0,490.5 256.5,491.4 257.0,491.8 257.5,492.8 258.0,492.0 258.5,491.7 259.0,492.0 259.5,492.1 260.0,494.3 260.4,492.7 260.9,493.8 261.4,494.6 261.9,494.5 262.4,492.7 262.9,492.0 263.4,494.8 263.9,491.2 264.4,491.5 264.9,493.6 265.4,493.7 265.9,493.3 266.4,492.1 266.9,493.6 267.4,494.5 267.9,492.8 268.4,495.6 268.9,493.0 269.4,491.8 269.9,492.8 270.4,492.3 270.9,492.6 271.4,492.4 271.8,493.0 272.3,494.2 272.8,493.5 273.3,493.3 273.8,491.7 274.3,491.3 274.8,492.7 275.3,494.1 275.8,494.1 276.3,493.4 276.8,491.6 277.3,492.8 277.8,493.3 278.3,494.1 278.8,492.2 279.3,492.9 279.8,493.3 280.3,493.1 280.8,491.2 281.3,493.4 281.8,491.2 282.3,491.8 282.8,493.1 283.2,492.2 283.7,494.5 284.2,497.0 284.7,498.0 285.2,499.3 285.7,497.7 286.2,498.1 286.7,497.4 287.2,497.1 287.7,501.3 288.2,497.5 288.7,499.7 289.2,497.4 289.7,498.5 290.2,497.3 290.7,495.8 291.2,499.1 291.7,496.9 292.2,497.1 292.7,499.1 293.2,496.2 293.7,496.8 294.2,497.4 294.6,497.6 295.1,493.2 295.6,497.2 296.1,498.7 296.6,497.7 297.1,497.1 297.6,497.1 298.1,496.7 298.6,497.8 299.1,496.0 299.6,497.1 300.1,498.1 300.6,497.5 301.1,497.1 301.6,496.0 302.1,496.7 302.6,497.9 303.1,497.8 303.6,497.8 304.1,496.2 304.6,499.3 305.1,498.4 305.6,498.5 306.0,500.5 306.5,499.6 307.0,499.9 307.5,500.9 308.0,500.1 308.5,499.9 309.0,499.7 309.5,501.0 310.0,500.5 310.5,498.2 311.0,501.7 311.5,500.2 312.0,499.4 312.5,500.1 313.0,499.4 313.5,499.9 314.0,499.1 314.5,498.5 315.0,500.0 315.5,499.4 316.0,499.6 316.5,499.7 316.9,498.8 317.4,499.5 317.9,497.0 318.4,495.4 318.9,495.0 319.4,494.9 319.9,497.0 320.4,494.1 320.9,496.6 321.4,495.8 321.9,493.6 322.4,496.9 322.9,494.7 323.4,495.3 323.9,495.8 324.4,496.5 324.9,495.0 325.4,496.0 325.9,494.3 326.4,494.1 326.9,497.0 327.4,496.0 327.9,495.7 328.3,496.7 328.8,496.6 329.3,495.2 329.8,495.5 330.3,497.1 330.8,495.8 331.3,494.6 331.8,496.5 332.3,496.1 332.8,493.3 333.3,494.5 333.8,499.0 334.3,500.0 334.8,499.4 335.3,502.4 335.8,504.1 336.3,506.8 336.8,508.5" fill="none" stroke="#ee33ee" stroke-width="0.85" stroke-opacity="1.0" stroke-linejoin="round"/>
<text x="195.7" y="457" font-size="6.3" fill="#2a2a2a" text-anchor="start" textLength="24.5" lengthAdjust="spacingAndGlyphs" >substrate</text>
<text x="242" y="453.3" font-size="6.3" fill="#2a2a2a" text-anchor="start" textLength="30.5" lengthAdjust="spacingAndGlyphs" >Cr-rich layer</text>
<text x="278" y="465.5" font-size="6.3" fill="#2a2a2a" text-anchor="start" textLength="27.5" lengthAdjust="spacingAndGlyphs" >oxide layer</text>
<line x1="254.6" y1="458" x2="227.8" y2="476.2" stroke="#111" stroke-width="0.8"/><polygon points="226.6,477 228.1,474.4 229.6,476.6" fill="#111"/>
<line x1="197.0" y1="541.7" x2="201.0" y2="541.7" stroke="#999" stroke-width="0.7"/>
<text x="201.5" y="542.6" font-size="2.2" fill="#555">Cr</text>
<line x1="206.7" y1="541.7" x2="210.7" y2="541.7" stroke="#ff6666" stroke-width="0.7"/>
<text x="211.2" y="542.6" font-size="2.2" fill="#555">O</text>
<line x1="216.4" y1="541.7" x2="220.4" y2="541.7" stroke="#6699ff" stroke-width="0.7"/>
<text x="220.9" y="542.6" font-size="2.2" fill="#555">Fe</text>
<line x1="226.1" y1="541.7" x2="230.1" y2="541.7" stroke="#3caa6a" stroke-width="0.7"/>
<text x="230.6" y="542.6" font-size="2.2" fill="#555">Mn</text>
<line x1="235.8" y1="541.7" x2="239.8" y2="541.7" stroke="#ff44ff" stroke-width="0.7"/>
<text x="240.3" y="542.6" font-size="2.2" fill="#555">Si</text>
</svg>
</body></html>
